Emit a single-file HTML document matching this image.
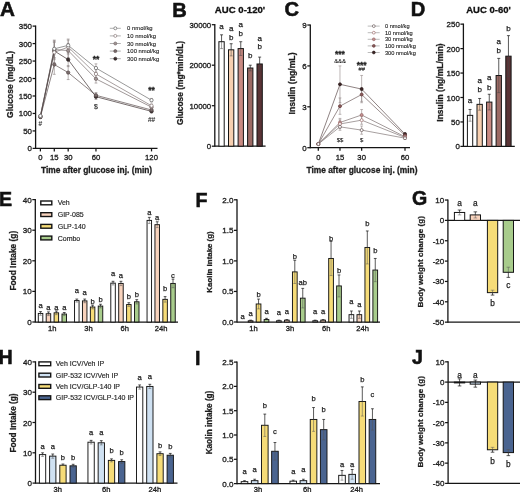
<!DOCTYPE html>
<html><head><meta charset="utf-8"><style>
html,body{margin:0;padding:0;background:#fff;width:520px;height:492px;overflow:hidden}
svg{display:block;filter:blur(0.3px);font-family:"Liberation Sans", sans-serif}
</style></head><body>
<svg width="520" height="492" viewBox="0 0 520 492" font-family='"Liberation Sans", sans-serif'>
<rect width="520" height="492" fill="#fff"/>
<text x="0" y="0" font-size="20.67" font-weight="bold" fill="#111" stroke="#111" stroke-width="0.55" transform="translate(0.00 15.60) scale(1.0 1)">A</text>
<line x1="35.60" y1="25.51" x2="35.60" y2="149.00" stroke="#141414" stroke-width="1.3"/>
<line x1="32.60" y1="148.40" x2="35.60" y2="148.40" stroke="#141414" stroke-width="1.25"/>
<text x="32.00" y="151.40" font-size="7.93" text-anchor="end" stroke="#1e1e1e" stroke-width="0.32" fill="#1e1e1e">0</text>
<line x1="32.60" y1="130.93" x2="35.60" y2="130.93" stroke="#141414" stroke-width="1.25"/>
<text x="32.00" y="133.93" font-size="7.93" text-anchor="end" stroke="#1e1e1e" stroke-width="0.32" fill="#1e1e1e">50</text>
<line x1="32.60" y1="113.46" x2="35.60" y2="113.46" stroke="#141414" stroke-width="1.25"/>
<text x="32.00" y="116.46" font-size="7.93" text-anchor="end" stroke="#1e1e1e" stroke-width="0.32" fill="#1e1e1e">100</text>
<line x1="32.60" y1="95.99" x2="35.60" y2="95.99" stroke="#141414" stroke-width="1.25"/>
<text x="32.00" y="98.99" font-size="7.93" text-anchor="end" stroke="#1e1e1e" stroke-width="0.32" fill="#1e1e1e">150</text>
<line x1="32.60" y1="78.52" x2="35.60" y2="78.52" stroke="#141414" stroke-width="1.25"/>
<text x="32.00" y="81.52" font-size="7.93" text-anchor="end" stroke="#1e1e1e" stroke-width="0.32" fill="#1e1e1e">200</text>
<line x1="32.60" y1="61.05" x2="35.60" y2="61.05" stroke="#141414" stroke-width="1.25"/>
<text x="32.00" y="64.05" font-size="7.93" text-anchor="end" stroke="#1e1e1e" stroke-width="0.32" fill="#1e1e1e">250</text>
<line x1="32.60" y1="43.58" x2="35.60" y2="43.58" stroke="#141414" stroke-width="1.25"/>
<text x="32.00" y="46.58" font-size="7.93" text-anchor="end" stroke="#1e1e1e" stroke-width="0.32" fill="#1e1e1e">300</text>
<line x1="32.60" y1="26.11" x2="35.60" y2="26.11" stroke="#141414" stroke-width="1.25"/>
<text x="32.00" y="29.11" font-size="7.93" text-anchor="end" stroke="#1e1e1e" stroke-width="0.32" fill="#1e1e1e">350</text>
<line x1="35.60" y1="148.40" x2="157.50" y2="148.40" stroke="#141414" stroke-width="1.25"/>
<line x1="40.40" y1="148.40" x2="40.40" y2="151.40" stroke="#141414" stroke-width="1.25"/>
<text x="40.40" y="159.90" font-size="7.70" text-anchor="middle" stroke="#1e1e1e" stroke-width="0.32" fill="#1e1e1e">0</text>
<line x1="54.29" y1="148.40" x2="54.29" y2="151.40" stroke="#141414" stroke-width="1.25"/>
<text x="54.29" y="159.90" font-size="7.70" text-anchor="middle" stroke="#1e1e1e" stroke-width="0.32" fill="#1e1e1e">15</text>
<line x1="68.18" y1="148.40" x2="68.18" y2="151.40" stroke="#141414" stroke-width="1.25"/>
<text x="68.18" y="159.90" font-size="7.70" text-anchor="middle" stroke="#1e1e1e" stroke-width="0.32" fill="#1e1e1e">30</text>
<line x1="95.96" y1="148.40" x2="95.96" y2="151.40" stroke="#141414" stroke-width="1.25"/>
<text x="95.96" y="159.90" font-size="7.70" text-anchor="middle" stroke="#1e1e1e" stroke-width="0.32" fill="#1e1e1e">60</text>
<line x1="151.52" y1="148.40" x2="151.52" y2="151.40" stroke="#141414" stroke-width="1.25"/>
<text x="151.52" y="159.90" font-size="7.70" text-anchor="middle" stroke="#1e1e1e" stroke-width="0.32" fill="#1e1e1e">120</text>
<text x="96.60" y="172.60" font-size="8.40" text-anchor="middle" font-weight="bold" stroke="#1e1e1e" stroke-width="0.3" fill="#1e1e1e">Time after glucose inj. (min)</text>
<text x="0" y="0" font-size="8.5" font-weight="bold" text-anchor="middle" fill="#1e1e1e" stroke="#1e1e1e" stroke-width="0.28" transform="translate(13.06 84.40) rotate(-90)">Glucose (mg/dL)</text>
<line x1="40.40" y1="117.30" x2="40.40" y2="114.51" stroke="#8a8080" stroke-width="0.6"/>
<line x1="39.00" y1="114.51" x2="41.80" y2="114.51" stroke="#8a8080" stroke-width="0.6"/>
<line x1="39.00" y1="117.30" x2="41.80" y2="117.30" stroke="#8a8080" stroke-width="0.6"/>
<line x1="54.29" y1="57.56" x2="54.29" y2="40.09" stroke="#8a8080" stroke-width="0.6"/>
<line x1="52.89" y1="40.09" x2="55.69" y2="40.09" stroke="#8a8080" stroke-width="0.6"/>
<line x1="52.89" y1="57.56" x2="55.69" y2="57.56" stroke="#8a8080" stroke-width="0.6"/>
<line x1="68.18" y1="51.62" x2="68.18" y2="39.04" stroke="#8a8080" stroke-width="0.6"/>
<line x1="66.78" y1="39.04" x2="69.58" y2="39.04" stroke="#8a8080" stroke-width="0.6"/>
<line x1="66.78" y1="51.62" x2="69.58" y2="51.62" stroke="#8a8080" stroke-width="0.6"/>
<line x1="95.96" y1="72.23" x2="95.96" y2="63.85" stroke="#8a8080" stroke-width="0.6"/>
<line x1="94.56" y1="63.85" x2="97.36" y2="63.85" stroke="#8a8080" stroke-width="0.6"/>
<line x1="94.56" y1="72.23" x2="97.36" y2="72.23" stroke="#8a8080" stroke-width="0.6"/>
<line x1="151.52" y1="101.93" x2="151.52" y2="98.44" stroke="#8a8080" stroke-width="0.6"/>
<line x1="150.12" y1="98.44" x2="152.92" y2="98.44" stroke="#8a8080" stroke-width="0.6"/>
<line x1="150.12" y1="101.93" x2="152.92" y2="101.93" stroke="#8a8080" stroke-width="0.6"/>
<line x1="40.40" y1="117.30" x2="40.40" y2="114.51" stroke="#8a8080" stroke-width="0.6"/>
<line x1="39.00" y1="114.51" x2="41.80" y2="114.51" stroke="#8a8080" stroke-width="0.6"/>
<line x1="39.00" y1="117.30" x2="41.80" y2="117.30" stroke="#8a8080" stroke-width="0.6"/>
<line x1="54.29" y1="62.80" x2="54.29" y2="41.83" stroke="#8a8080" stroke-width="0.6"/>
<line x1="52.89" y1="41.83" x2="55.69" y2="41.83" stroke="#8a8080" stroke-width="0.6"/>
<line x1="52.89" y1="62.80" x2="55.69" y2="62.80" stroke="#8a8080" stroke-width="0.6"/>
<line x1="68.18" y1="54.06" x2="68.18" y2="40.09" stroke="#8a8080" stroke-width="0.6"/>
<line x1="66.78" y1="40.09" x2="69.58" y2="40.09" stroke="#8a8080" stroke-width="0.6"/>
<line x1="66.78" y1="54.06" x2="69.58" y2="54.06" stroke="#8a8080" stroke-width="0.6"/>
<line x1="95.96" y1="78.87" x2="95.96" y2="69.09" stroke="#8a8080" stroke-width="0.6"/>
<line x1="94.56" y1="69.09" x2="97.36" y2="69.09" stroke="#8a8080" stroke-width="0.6"/>
<line x1="94.56" y1="78.87" x2="97.36" y2="78.87" stroke="#8a8080" stroke-width="0.6"/>
<line x1="151.52" y1="107.52" x2="151.52" y2="104.03" stroke="#8a8080" stroke-width="0.6"/>
<line x1="150.12" y1="104.03" x2="152.92" y2="104.03" stroke="#8a8080" stroke-width="0.6"/>
<line x1="150.12" y1="107.52" x2="152.92" y2="107.52" stroke="#8a8080" stroke-width="0.6"/>
<line x1="40.40" y1="117.65" x2="40.40" y2="114.86" stroke="#8a8080" stroke-width="0.6"/>
<line x1="39.00" y1="114.86" x2="41.80" y2="114.86" stroke="#8a8080" stroke-width="0.6"/>
<line x1="39.00" y1="117.65" x2="41.80" y2="117.65" stroke="#8a8080" stroke-width="0.6"/>
<line x1="54.29" y1="58.25" x2="54.29" y2="40.78" stroke="#8a8080" stroke-width="0.6"/>
<line x1="52.89" y1="40.78" x2="55.69" y2="40.78" stroke="#8a8080" stroke-width="0.6"/>
<line x1="52.89" y1="58.25" x2="55.69" y2="58.25" stroke="#8a8080" stroke-width="0.6"/>
<line x1="68.18" y1="57.56" x2="68.18" y2="43.58" stroke="#8a8080" stroke-width="0.6"/>
<line x1="66.78" y1="43.58" x2="69.58" y2="43.58" stroke="#8a8080" stroke-width="0.6"/>
<line x1="66.78" y1="57.56" x2="69.58" y2="57.56" stroke="#8a8080" stroke-width="0.6"/>
<line x1="95.96" y1="83.06" x2="95.96" y2="74.68" stroke="#8a8080" stroke-width="0.6"/>
<line x1="94.56" y1="74.68" x2="97.36" y2="74.68" stroke="#8a8080" stroke-width="0.6"/>
<line x1="94.56" y1="83.06" x2="97.36" y2="83.06" stroke="#8a8080" stroke-width="0.6"/>
<line x1="151.52" y1="108.57" x2="151.52" y2="105.77" stroke="#8a8080" stroke-width="0.6"/>
<line x1="150.12" y1="105.77" x2="152.92" y2="105.77" stroke="#8a8080" stroke-width="0.6"/>
<line x1="150.12" y1="108.57" x2="152.92" y2="108.57" stroke="#8a8080" stroke-width="0.6"/>
<line x1="40.40" y1="118.35" x2="40.40" y2="115.56" stroke="#8a8080" stroke-width="0.6"/>
<line x1="39.00" y1="115.56" x2="41.80" y2="115.56" stroke="#8a8080" stroke-width="0.6"/>
<line x1="39.00" y1="118.35" x2="41.80" y2="118.35" stroke="#8a8080" stroke-width="0.6"/>
<line x1="54.29" y1="74.33" x2="54.29" y2="54.76" stroke="#8a8080" stroke-width="0.6"/>
<line x1="52.89" y1="54.76" x2="55.69" y2="54.76" stroke="#8a8080" stroke-width="0.6"/>
<line x1="52.89" y1="74.33" x2="55.69" y2="74.33" stroke="#8a8080" stroke-width="0.6"/>
<line x1="68.18" y1="79.57" x2="68.18" y2="65.59" stroke="#8a8080" stroke-width="0.6"/>
<line x1="66.78" y1="65.59" x2="69.58" y2="65.59" stroke="#8a8080" stroke-width="0.6"/>
<line x1="66.78" y1="79.57" x2="69.58" y2="79.57" stroke="#8a8080" stroke-width="0.6"/>
<line x1="95.96" y1="98.09" x2="95.96" y2="92.50" stroke="#8a8080" stroke-width="0.6"/>
<line x1="94.56" y1="92.50" x2="97.36" y2="92.50" stroke="#8a8080" stroke-width="0.6"/>
<line x1="94.56" y1="98.09" x2="97.36" y2="98.09" stroke="#8a8080" stroke-width="0.6"/>
<line x1="151.52" y1="111.36" x2="151.52" y2="108.57" stroke="#8a8080" stroke-width="0.6"/>
<line x1="150.12" y1="108.57" x2="152.92" y2="108.57" stroke="#8a8080" stroke-width="0.6"/>
<line x1="150.12" y1="111.36" x2="152.92" y2="111.36" stroke="#8a8080" stroke-width="0.6"/>
<line x1="40.40" y1="118.35" x2="40.40" y2="115.56" stroke="#8a8080" stroke-width="0.6"/>
<line x1="39.00" y1="115.56" x2="41.80" y2="115.56" stroke="#8a8080" stroke-width="0.6"/>
<line x1="39.00" y1="118.35" x2="41.80" y2="118.35" stroke="#8a8080" stroke-width="0.6"/>
<line x1="54.29" y1="59.65" x2="54.29" y2="42.18" stroke="#8a8080" stroke-width="0.6"/>
<line x1="52.89" y1="42.18" x2="55.69" y2="42.18" stroke="#8a8080" stroke-width="0.6"/>
<line x1="52.89" y1="59.65" x2="55.69" y2="59.65" stroke="#8a8080" stroke-width="0.6"/>
<line x1="68.18" y1="66.64" x2="68.18" y2="52.66" stroke="#8a8080" stroke-width="0.6"/>
<line x1="66.78" y1="52.66" x2="69.58" y2="52.66" stroke="#8a8080" stroke-width="0.6"/>
<line x1="66.78" y1="66.64" x2="69.58" y2="66.64" stroke="#8a8080" stroke-width="0.6"/>
<line x1="95.96" y1="99.48" x2="95.96" y2="93.89" stroke="#8a8080" stroke-width="0.6"/>
<line x1="94.56" y1="93.89" x2="97.36" y2="93.89" stroke="#8a8080" stroke-width="0.6"/>
<line x1="94.56" y1="99.48" x2="97.36" y2="99.48" stroke="#8a8080" stroke-width="0.6"/>
<line x1="151.52" y1="112.76" x2="151.52" y2="109.97" stroke="#8a8080" stroke-width="0.6"/>
<line x1="150.12" y1="109.97" x2="152.92" y2="109.97" stroke="#8a8080" stroke-width="0.6"/>
<line x1="150.12" y1="112.76" x2="152.92" y2="112.76" stroke="#8a8080" stroke-width="0.6"/>
<polyline points="40.40,115.91 54.29,48.82 68.18,45.33 95.96,68.04 151.52,100.18" fill="none" stroke="#777" stroke-width="0.75"/>
<polyline points="40.40,115.91 54.29,52.32 68.18,47.07 95.96,73.98 151.52,105.77" fill="none" stroke="#8a7f7f" stroke-width="0.75"/>
<polyline points="40.40,116.26 54.29,49.52 68.18,50.57 95.96,78.87 151.52,107.17" fill="none" stroke="#807575" stroke-width="0.75"/>
<polyline points="40.40,116.95 54.29,64.54 68.18,72.58 95.96,95.29 151.52,109.97" fill="none" stroke="#6a5d5d" stroke-width="0.75"/>
<polyline points="40.40,116.95 54.29,50.92 68.18,59.65 95.96,96.69 151.52,111.36" fill="none" stroke="#4a3e3e" stroke-width="0.75"/>
<circle cx="40.40" cy="116.95" r="1.65" fill="#3a2e2e" stroke="#2a2020" stroke-width="0.75"/>
<circle cx="54.29" cy="50.92" r="1.65" fill="#3a2e2e" stroke="#2a2020" stroke-width="0.75"/>
<circle cx="68.18" cy="59.65" r="1.65" fill="#3a2e2e" stroke="#2a2020" stroke-width="0.75"/>
<circle cx="95.96" cy="96.69" r="1.65" fill="#3a2e2e" stroke="#2a2020" stroke-width="0.75"/>
<circle cx="151.52" cy="111.36" r="1.65" fill="#3a2e2e" stroke="#2a2020" stroke-width="0.75"/>
<circle cx="40.40" cy="116.95" r="1.65" fill="#7a6c6c" stroke="#5a4c4c" stroke-width="0.75"/>
<circle cx="54.29" cy="64.54" r="1.65" fill="#7a6c6c" stroke="#5a4c4c" stroke-width="0.75"/>
<circle cx="68.18" cy="72.58" r="1.65" fill="#7a6c6c" stroke="#5a4c4c" stroke-width="0.75"/>
<circle cx="95.96" cy="95.29" r="1.65" fill="#7a6c6c" stroke="#5a4c4c" stroke-width="0.75"/>
<circle cx="151.52" cy="109.97" r="1.65" fill="#7a6c6c" stroke="#5a4c4c" stroke-width="0.75"/>
<circle cx="40.40" cy="116.26" r="1.65" fill="#a09494" stroke="#756a6a" stroke-width="0.75"/>
<circle cx="54.29" cy="49.52" r="1.65" fill="#a09494" stroke="#756a6a" stroke-width="0.75"/>
<circle cx="68.18" cy="50.57" r="1.65" fill="#a09494" stroke="#756a6a" stroke-width="0.75"/>
<circle cx="95.96" cy="78.87" r="1.65" fill="#a09494" stroke="#756a6a" stroke-width="0.75"/>
<circle cx="151.52" cy="107.17" r="1.65" fill="#a09494" stroke="#756a6a" stroke-width="0.75"/>
<circle cx="40.40" cy="115.91" r="1.65" fill="#ffffff" stroke="#8a7a7a" stroke-width="0.75"/>
<circle cx="54.29" cy="52.32" r="1.65" fill="#ffffff" stroke="#8a7a7a" stroke-width="0.75"/>
<circle cx="68.18" cy="47.07" r="1.65" fill="#ffffff" stroke="#8a7a7a" stroke-width="0.75"/>
<circle cx="95.96" cy="73.98" r="1.65" fill="#ffffff" stroke="#8a7a7a" stroke-width="0.75"/>
<circle cx="151.52" cy="105.77" r="1.65" fill="#ffffff" stroke="#8a7a7a" stroke-width="0.75"/>
<circle cx="40.40" cy="115.91" r="1.65" fill="#ffffff" stroke="#666" stroke-width="0.75"/>
<circle cx="54.29" cy="48.82" r="1.65" fill="#ffffff" stroke="#666" stroke-width="0.75"/>
<circle cx="68.18" cy="45.33" r="1.65" fill="#ffffff" stroke="#666" stroke-width="0.75"/>
<circle cx="95.96" cy="68.04" r="1.65" fill="#ffffff" stroke="#666" stroke-width="0.75"/>
<circle cx="151.52" cy="100.18" r="1.65" fill="#ffffff" stroke="#666" stroke-width="0.75"/>
<text x="95.96" y="61.60" font-size="8.50" text-anchor="middle" font-weight="bold" stroke="#1e1e1e" stroke-width="0.3" fill="#1e1e1e">**</text>
<text x="151.52" y="92.50" font-size="8.50" text-anchor="middle" font-weight="bold" stroke="#1e1e1e" stroke-width="0.3" fill="#1e1e1e">**</text>
<text x="95.96" y="109.00" font-size="6.80" text-anchor="middle" stroke="#1e1e1e" stroke-width="0.15" fill="#1e1e1e">$</text>
<text x="40.40" y="126.00" font-size="6.50" text-anchor="middle" stroke="#1e1e1e" stroke-width="0.1" fill="#1e1e1e">#</text>
<text x="151.52" y="122.30" font-size="6.50" text-anchor="middle" stroke="#1e1e1e" stroke-width="0.1" fill="#1e1e1e">##</text>
<line x1="109.80" y1="28.30" x2="120.80" y2="28.30" stroke="#9a9a9a" stroke-width="0.8"/>
<circle cx="115.30" cy="28.30" r="1.5" fill="#ffffff" stroke="#666" stroke-width="0.7"/>
<text x="127.10" y="30.40" font-size="5.90" text-anchor="start" stroke="#1e1e1e" stroke-width="0.12" fill="#1e1e1e">0 nmol/kg</text>
<line x1="109.80" y1="35.90" x2="120.80" y2="35.90" stroke="#9a9a9a" stroke-width="0.8"/>
<circle cx="115.30" cy="35.90" r="1.5" fill="#ffffff" stroke="#8a7a7a" stroke-width="0.7"/>
<text x="127.10" y="38.00" font-size="5.90" text-anchor="start" stroke="#1e1e1e" stroke-width="0.12" fill="#1e1e1e">10 nmol/kg</text>
<line x1="109.80" y1="43.50" x2="120.80" y2="43.50" stroke="#9a9a9a" stroke-width="0.8"/>
<circle cx="115.30" cy="43.50" r="1.5" fill="#a09494" stroke="#756a6a" stroke-width="0.7"/>
<text x="127.10" y="45.60" font-size="5.90" text-anchor="start" stroke="#1e1e1e" stroke-width="0.12" fill="#1e1e1e">30 nmol/kg</text>
<line x1="109.80" y1="51.10" x2="120.80" y2="51.10" stroke="#9a9a9a" stroke-width="0.8"/>
<circle cx="115.30" cy="51.10" r="1.5" fill="#7a6c6c" stroke="#5a4c4c" stroke-width="0.7"/>
<text x="127.10" y="53.20" font-size="5.90" text-anchor="start" stroke="#1e1e1e" stroke-width="0.12" fill="#1e1e1e">100 nmol/kg</text>
<line x1="109.80" y1="58.70" x2="120.80" y2="58.70" stroke="#9a9a9a" stroke-width="0.8"/>
<circle cx="115.30" cy="58.70" r="1.5" fill="#3a2e2e" stroke="#2a2020" stroke-width="0.7"/>
<text x="127.10" y="60.80" font-size="5.90" text-anchor="start" stroke="#1e1e1e" stroke-width="0.12" fill="#1e1e1e">300 nmol/kg</text>
<text x="0" y="0" font-size="20.14" font-weight="bold" fill="#111" stroke="#111" stroke-width="0.55" transform="translate(172.30 16.60) scale(1.0 1)">B</text>
<text x="240.00" y="13.00" font-size="9.60" text-anchor="middle" font-weight="bold" stroke="#111" stroke-width="0.3" fill="#111">AUC 0-120'</text>
<line x1="214.80" y1="24.10" x2="214.80" y2="146.80" stroke="#141414" stroke-width="1.3"/>
<line x1="211.80" y1="146.20" x2="214.80" y2="146.20" stroke="#141414" stroke-width="1.25"/>
<text x="211.20" y="149.20" font-size="7.82" text-anchor="end" stroke="#1e1e1e" stroke-width="0.32" fill="#1e1e1e">0</text>
<line x1="211.80" y1="105.70" x2="214.80" y2="105.70" stroke="#141414" stroke-width="1.25"/>
<text x="211.20" y="108.70" font-size="7.82" text-anchor="end" stroke="#1e1e1e" stroke-width="0.32" fill="#1e1e1e">10000</text>
<line x1="211.80" y1="65.20" x2="214.80" y2="65.20" stroke="#141414" stroke-width="1.25"/>
<text x="211.20" y="68.20" font-size="7.82" text-anchor="end" stroke="#1e1e1e" stroke-width="0.32" fill="#1e1e1e">20000</text>
<line x1="211.80" y1="24.70" x2="214.80" y2="24.70" stroke="#141414" stroke-width="1.25"/>
<text x="211.20" y="27.70" font-size="7.82" text-anchor="end" stroke="#1e1e1e" stroke-width="0.32" fill="#1e1e1e">30000</text>
<line x1="214.80" y1="146.20" x2="265.60" y2="146.20" stroke="#141414" stroke-width="1.25"/>
<text x="0" y="0" font-size="8.4" font-weight="bold" text-anchor="middle" fill="#1e1e1e" stroke="#1e1e1e" stroke-width="0.28" transform="translate(183.12 83.00) rotate(-90)">Glucose (mg*min/dL)</text>
<rect x="218.90" y="41.71" width="5.30" height="104.49" fill="#ffffff" stroke="#141414" stroke-width="1.0"/>
<line x1="221.55" y1="41.71" x2="221.55" y2="34.82" stroke="#141414" stroke-width="0.7"/>
<line x1="220.05" y1="34.82" x2="223.05" y2="34.82" stroke="#141414" stroke-width="0.7"/>
<line x1="221.55" y1="41.71" x2="221.55" y2="48.59" stroke="#444" stroke-width="0.5"/>
<line x1="220.05" y1="48.59" x2="223.05" y2="48.59" stroke="#444" stroke-width="0.5"/>
<rect x="228.50" y="49.81" width="5.30" height="96.39" fill="#f7cfb0" stroke="#141414" stroke-width="1.0"/>
<line x1="231.15" y1="49.81" x2="231.15" y2="43.73" stroke="#141414" stroke-width="0.7"/>
<line x1="229.65" y1="43.73" x2="232.65" y2="43.73" stroke="#141414" stroke-width="0.7"/>
<line x1="231.15" y1="49.81" x2="231.15" y2="55.88" stroke="#444" stroke-width="0.5"/>
<line x1="229.65" y1="55.88" x2="232.65" y2="55.88" stroke="#444" stroke-width="0.5"/>
<rect x="238.10" y="48.59" width="5.30" height="97.60" fill="#c98a82" stroke="#141414" stroke-width="1.0"/>
<line x1="240.75" y1="48.59" x2="240.75" y2="41.71" stroke="#141414" stroke-width="0.7"/>
<line x1="239.25" y1="41.71" x2="242.25" y2="41.71" stroke="#141414" stroke-width="0.7"/>
<line x1="240.75" y1="48.59" x2="240.75" y2="55.48" stroke="#444" stroke-width="0.5"/>
<line x1="239.25" y1="55.48" x2="242.25" y2="55.48" stroke="#444" stroke-width="0.5"/>
<rect x="247.60" y="68.03" width="5.30" height="78.16" fill="#9c6a64" stroke="#141414" stroke-width="1.0"/>
<line x1="250.25" y1="68.03" x2="250.25" y2="65.20" stroke="#141414" stroke-width="0.7"/>
<line x1="248.75" y1="65.20" x2="251.75" y2="65.20" stroke="#141414" stroke-width="0.7"/>
<line x1="250.25" y1="68.03" x2="250.25" y2="70.87" stroke="#444" stroke-width="0.5"/>
<line x1="248.75" y1="70.87" x2="251.75" y2="70.87" stroke="#444" stroke-width="0.5"/>
<rect x="257.00" y="63.98" width="5.30" height="82.21" fill="#5a3436" stroke="#141414" stroke-width="1.0"/>
<line x1="259.65" y1="63.98" x2="259.65" y2="57.10" stroke="#141414" stroke-width="0.7"/>
<line x1="258.15" y1="57.10" x2="261.15" y2="57.10" stroke="#141414" stroke-width="0.7"/>
<line x1="259.65" y1="63.98" x2="259.65" y2="70.87" stroke="#444" stroke-width="0.5"/>
<line x1="258.15" y1="70.87" x2="261.15" y2="70.87" stroke="#444" stroke-width="0.5"/>
<text x="221.55" y="29.43" font-size="8.00" text-anchor="middle" stroke="#1e1e1e" stroke-width="0.25" fill="#1e1e1e">a</text>
<text x="231.15" y="31.43" font-size="8.00" text-anchor="middle" stroke="#1e1e1e" stroke-width="0.25" fill="#1e1e1e">a</text>
<text x="231.15" y="40.08" font-size="8.00" text-anchor="middle" stroke="#1e1e1e" stroke-width="0.25" fill="#1e1e1e">b</text>
<text x="240.75" y="27.13" font-size="8.00" text-anchor="middle" stroke="#1e1e1e" stroke-width="0.25" fill="#1e1e1e">a</text>
<text x="240.75" y="35.58" font-size="8.00" text-anchor="middle" stroke="#1e1e1e" stroke-width="0.25" fill="#1e1e1e">b</text>
<text x="250.25" y="57.68" font-size="8.00" text-anchor="middle" stroke="#1e1e1e" stroke-width="0.25" fill="#1e1e1e">b</text>
<text x="259.65" y="41.03" font-size="8.00" text-anchor="middle" stroke="#1e1e1e" stroke-width="0.25" fill="#1e1e1e">a</text>
<text x="259.65" y="49.48" font-size="8.00" text-anchor="middle" stroke="#1e1e1e" stroke-width="0.25" fill="#1e1e1e">b</text>
<text x="0" y="0" font-size="20.14" font-weight="bold" fill="#111" stroke="#111" stroke-width="0.55" transform="translate(284.50 16.00) scale(1.0 1)">C</text>
<line x1="310.30" y1="24.43" x2="310.30" y2="148.30" stroke="#141414" stroke-width="1.3"/>
<line x1="307.30" y1="147.70" x2="310.30" y2="147.70" stroke="#141414" stroke-width="1.25"/>
<text x="306.70" y="150.70" font-size="7.93" text-anchor="end" stroke="#1e1e1e" stroke-width="0.32" fill="#1e1e1e">0</text>
<line x1="307.30" y1="106.81" x2="310.30" y2="106.81" stroke="#141414" stroke-width="1.25"/>
<text x="306.70" y="109.81" font-size="7.93" text-anchor="end" stroke="#1e1e1e" stroke-width="0.32" fill="#1e1e1e">3</text>
<line x1="307.30" y1="65.92" x2="310.30" y2="65.92" stroke="#141414" stroke-width="1.25"/>
<text x="306.70" y="68.92" font-size="7.93" text-anchor="end" stroke="#1e1e1e" stroke-width="0.32" fill="#1e1e1e">6</text>
<line x1="307.30" y1="25.03" x2="310.30" y2="25.03" stroke="#141414" stroke-width="1.25"/>
<text x="306.70" y="28.03" font-size="7.93" text-anchor="end" stroke="#1e1e1e" stroke-width="0.32" fill="#1e1e1e">9</text>
<line x1="310.30" y1="147.70" x2="410.00" y2="147.70" stroke="#141414" stroke-width="1.25"/>
<line x1="318.30" y1="147.70" x2="318.30" y2="150.70" stroke="#141414" stroke-width="1.25"/>
<text x="318.30" y="159.90" font-size="7.70" text-anchor="middle" stroke="#1e1e1e" stroke-width="0.32" fill="#1e1e1e">0</text>
<line x1="339.98" y1="147.70" x2="339.98" y2="150.70" stroke="#141414" stroke-width="1.25"/>
<text x="339.98" y="159.90" font-size="7.70" text-anchor="middle" stroke="#1e1e1e" stroke-width="0.32" fill="#1e1e1e">15</text>
<line x1="361.65" y1="147.70" x2="361.65" y2="150.70" stroke="#141414" stroke-width="1.25"/>
<text x="361.65" y="159.90" font-size="7.70" text-anchor="middle" stroke="#1e1e1e" stroke-width="0.32" fill="#1e1e1e">30</text>
<line x1="405.00" y1="147.70" x2="405.00" y2="150.70" stroke="#141414" stroke-width="1.25"/>
<text x="405.00" y="159.90" font-size="7.70" text-anchor="middle" stroke="#1e1e1e" stroke-width="0.32" fill="#1e1e1e">60</text>
<text x="362.00" y="172.60" font-size="8.40" text-anchor="middle" font-weight="bold" stroke="#1e1e1e" stroke-width="0.3" fill="#1e1e1e">Time after glucose inj. (min)</text>
<text x="0" y="0" font-size="8.66" font-weight="bold" text-anchor="middle" fill="#1e1e1e" stroke="#1e1e1e" stroke-width="0.28" transform="translate(294.52 83.50) rotate(-90)">Insulin (ng/mL)</text>
<line x1="318.30" y1="144.70" x2="318.30" y2="143.34" stroke="#908585" stroke-width="0.6"/>
<line x1="316.90" y1="143.34" x2="319.70" y2="143.34" stroke="#908585" stroke-width="0.6"/>
<line x1="316.90" y1="144.70" x2="319.70" y2="144.70" stroke="#908585" stroke-width="0.6"/>
<line x1="339.98" y1="130.25" x2="339.98" y2="123.44" stroke="#908585" stroke-width="0.6"/>
<line x1="338.58" y1="123.44" x2="341.38" y2="123.44" stroke="#908585" stroke-width="0.6"/>
<line x1="338.58" y1="130.25" x2="341.38" y2="130.25" stroke="#908585" stroke-width="0.6"/>
<line x1="361.65" y1="134.21" x2="361.65" y2="126.03" stroke="#908585" stroke-width="0.6"/>
<line x1="360.25" y1="126.03" x2="363.05" y2="126.03" stroke="#908585" stroke-width="0.6"/>
<line x1="360.25" y1="134.21" x2="363.05" y2="134.21" stroke="#908585" stroke-width="0.6"/>
<line x1="405.00" y1="139.52" x2="405.00" y2="136.80" stroke="#908585" stroke-width="0.6"/>
<line x1="403.60" y1="136.80" x2="406.40" y2="136.80" stroke="#908585" stroke-width="0.6"/>
<line x1="403.60" y1="139.52" x2="406.40" y2="139.52" stroke="#908585" stroke-width="0.6"/>
<line x1="318.30" y1="144.70" x2="318.30" y2="143.34" stroke="#908585" stroke-width="0.6"/>
<line x1="316.90" y1="143.34" x2="319.70" y2="143.34" stroke="#908585" stroke-width="0.6"/>
<line x1="316.90" y1="144.70" x2="319.70" y2="144.70" stroke="#908585" stroke-width="0.6"/>
<line x1="339.98" y1="128.07" x2="339.98" y2="119.89" stroke="#908585" stroke-width="0.6"/>
<line x1="338.58" y1="119.89" x2="341.38" y2="119.89" stroke="#908585" stroke-width="0.6"/>
<line x1="338.58" y1="128.07" x2="341.38" y2="128.07" stroke="#908585" stroke-width="0.6"/>
<line x1="361.65" y1="124.26" x2="361.65" y2="116.08" stroke="#908585" stroke-width="0.6"/>
<line x1="360.25" y1="116.08" x2="363.05" y2="116.08" stroke="#908585" stroke-width="0.6"/>
<line x1="360.25" y1="124.26" x2="363.05" y2="124.26" stroke="#908585" stroke-width="0.6"/>
<line x1="405.00" y1="138.84" x2="405.00" y2="136.11" stroke="#908585" stroke-width="0.6"/>
<line x1="403.60" y1="136.11" x2="406.40" y2="136.11" stroke="#908585" stroke-width="0.6"/>
<line x1="403.60" y1="138.84" x2="406.40" y2="138.84" stroke="#908585" stroke-width="0.6"/>
<line x1="318.30" y1="144.70" x2="318.30" y2="143.34" stroke="#908585" stroke-width="0.6"/>
<line x1="316.90" y1="143.34" x2="319.70" y2="143.34" stroke="#908585" stroke-width="0.6"/>
<line x1="316.90" y1="144.70" x2="319.70" y2="144.70" stroke="#908585" stroke-width="0.6"/>
<line x1="339.98" y1="126.57" x2="339.98" y2="118.40" stroke="#908585" stroke-width="0.6"/>
<line x1="338.58" y1="118.40" x2="341.38" y2="118.40" stroke="#908585" stroke-width="0.6"/>
<line x1="338.58" y1="126.57" x2="341.38" y2="126.57" stroke="#908585" stroke-width="0.6"/>
<line x1="361.65" y1="120.44" x2="361.65" y2="109.54" stroke="#908585" stroke-width="0.6"/>
<line x1="360.25" y1="109.54" x2="363.05" y2="109.54" stroke="#908585" stroke-width="0.6"/>
<line x1="360.25" y1="120.44" x2="363.05" y2="120.44" stroke="#908585" stroke-width="0.6"/>
<line x1="405.00" y1="138.16" x2="405.00" y2="135.43" stroke="#908585" stroke-width="0.6"/>
<line x1="403.60" y1="135.43" x2="406.40" y2="135.43" stroke="#908585" stroke-width="0.6"/>
<line x1="403.60" y1="138.16" x2="406.40" y2="138.16" stroke="#908585" stroke-width="0.6"/>
<line x1="318.30" y1="144.70" x2="318.30" y2="143.34" stroke="#908585" stroke-width="0.6"/>
<line x1="316.90" y1="143.34" x2="319.70" y2="143.34" stroke="#908585" stroke-width="0.6"/>
<line x1="316.90" y1="144.70" x2="319.70" y2="144.70" stroke="#908585" stroke-width="0.6"/>
<line x1="339.98" y1="114.31" x2="339.98" y2="97.95" stroke="#908585" stroke-width="0.6"/>
<line x1="338.58" y1="97.95" x2="341.38" y2="97.95" stroke="#908585" stroke-width="0.6"/>
<line x1="338.58" y1="114.31" x2="341.38" y2="114.31" stroke="#908585" stroke-width="0.6"/>
<line x1="361.65" y1="101.36" x2="361.65" y2="87.73" stroke="#908585" stroke-width="0.6"/>
<line x1="360.25" y1="87.73" x2="363.05" y2="87.73" stroke="#908585" stroke-width="0.6"/>
<line x1="360.25" y1="101.36" x2="363.05" y2="101.36" stroke="#908585" stroke-width="0.6"/>
<line x1="405.00" y1="136.80" x2="405.00" y2="134.07" stroke="#908585" stroke-width="0.6"/>
<line x1="403.60" y1="134.07" x2="406.40" y2="134.07" stroke="#908585" stroke-width="0.6"/>
<line x1="403.60" y1="136.80" x2="406.40" y2="136.80" stroke="#908585" stroke-width="0.6"/>
<line x1="318.30" y1="144.70" x2="318.30" y2="143.34" stroke="#908585" stroke-width="0.6"/>
<line x1="316.90" y1="143.34" x2="319.70" y2="143.34" stroke="#908585" stroke-width="0.6"/>
<line x1="316.90" y1="144.70" x2="319.70" y2="144.70" stroke="#908585" stroke-width="0.6"/>
<line x1="339.98" y1="102.72" x2="339.98" y2="65.92" stroke="#908585" stroke-width="0.6"/>
<line x1="338.58" y1="65.92" x2="341.38" y2="65.92" stroke="#908585" stroke-width="0.6"/>
<line x1="338.58" y1="102.72" x2="341.38" y2="102.72" stroke="#908585" stroke-width="0.6"/>
<line x1="361.65" y1="102.72" x2="361.65" y2="75.46" stroke="#908585" stroke-width="0.6"/>
<line x1="360.25" y1="75.46" x2="363.05" y2="75.46" stroke="#908585" stroke-width="0.6"/>
<line x1="360.25" y1="102.72" x2="363.05" y2="102.72" stroke="#908585" stroke-width="0.6"/>
<line x1="405.00" y1="135.43" x2="405.00" y2="132.71" stroke="#908585" stroke-width="0.6"/>
<line x1="403.60" y1="132.71" x2="406.40" y2="132.71" stroke="#908585" stroke-width="0.6"/>
<line x1="403.60" y1="135.43" x2="406.40" y2="135.43" stroke="#908585" stroke-width="0.6"/>
<polyline points="318.30,144.02 339.98,126.85 361.65,130.12 405.00,138.16" fill="none" stroke="#8a8080" stroke-width="0.75"/>
<polyline points="318.30,144.02 339.98,123.98 361.65,120.17 405.00,137.48" fill="none" stroke="#8a8080" stroke-width="0.75"/>
<polyline points="318.30,144.02 339.98,122.48 361.65,114.99 405.00,136.80" fill="none" stroke="#857a7a" stroke-width="0.75"/>
<polyline points="318.30,144.02 339.98,106.13 361.65,94.54 405.00,135.43" fill="none" stroke="#7a6a6a" stroke-width="0.75"/>
<polyline points="318.30,144.02 339.98,84.32 361.65,89.09 405.00,134.07" fill="none" stroke="#6a5a5a" stroke-width="0.75"/>
<circle cx="318.30" cy="144.02" r="1.5" fill="#3c2424" stroke="#2a1a1a" stroke-width="0.75"/>
<circle cx="339.98" cy="84.32" r="1.5" fill="#3c2424" stroke="#2a1a1a" stroke-width="0.75"/>
<circle cx="361.65" cy="89.09" r="1.5" fill="#3c2424" stroke="#2a1a1a" stroke-width="0.75"/>
<circle cx="405.00" cy="134.07" r="1.5" fill="#3c2424" stroke="#2a1a1a" stroke-width="0.75"/>
<circle cx="318.30" cy="144.02" r="1.5" fill="#8a5a5a" stroke="#6a4040" stroke-width="0.75"/>
<circle cx="339.98" cy="106.13" r="1.5" fill="#8a5a5a" stroke="#6a4040" stroke-width="0.75"/>
<circle cx="361.65" cy="94.54" r="1.5" fill="#8a5a5a" stroke="#6a4040" stroke-width="0.75"/>
<circle cx="405.00" cy="135.43" r="1.5" fill="#8a5a5a" stroke="#6a4040" stroke-width="0.75"/>
<circle cx="318.30" cy="144.02" r="1.5" fill="#c49090" stroke="#9a6a6a" stroke-width="0.75"/>
<circle cx="339.98" cy="122.48" r="1.5" fill="#c49090" stroke="#9a6a6a" stroke-width="0.75"/>
<circle cx="361.65" cy="114.99" r="1.5" fill="#c49090" stroke="#9a6a6a" stroke-width="0.75"/>
<circle cx="405.00" cy="136.80" r="1.5" fill="#c49090" stroke="#9a6a6a" stroke-width="0.75"/>
<circle cx="318.30" cy="144.02" r="1.5" fill="#ffffff" stroke="#a07070" stroke-width="0.75"/>
<circle cx="339.98" cy="123.98" r="1.5" fill="#ffffff" stroke="#a07070" stroke-width="0.75"/>
<circle cx="361.65" cy="120.17" r="1.5" fill="#ffffff" stroke="#a07070" stroke-width="0.75"/>
<circle cx="405.00" cy="137.48" r="1.5" fill="#ffffff" stroke="#a07070" stroke-width="0.75"/>
<circle cx="318.30" cy="144.02" r="1.5" fill="#ffffff" stroke="#6a5a5a" stroke-width="0.75"/>
<circle cx="339.98" cy="126.85" r="1.5" fill="#ffffff" stroke="#6a5a5a" stroke-width="0.75"/>
<circle cx="361.65" cy="130.12" r="1.5" fill="#ffffff" stroke="#6a5a5a" stroke-width="0.75"/>
<circle cx="405.00" cy="138.16" r="1.5" fill="#ffffff" stroke="#6a5a5a" stroke-width="0.75"/>
<text x="339.98" y="56.50" font-size="8.50" text-anchor="middle" font-weight="bold" stroke="#1e1e1e" stroke-width="0.3" fill="#1e1e1e">***</text>
<text x="339.98" y="62.60" font-size="5.80" text-anchor="middle" stroke="#1e1e1e" stroke-width="0.1" fill="#1e1e1e">&amp;&amp;&amp;</text>
<text x="361.65" y="67.50" font-size="8.50" text-anchor="middle" font-weight="bold" stroke="#1e1e1e" stroke-width="0.3" fill="#1e1e1e">***</text>
<text x="361.65" y="71.30" font-size="5.80" text-anchor="middle" stroke="#1e1e1e" stroke-width="0.1" fill="#1e1e1e">##</text>
<text x="339.98" y="142.00" font-size="6.00" text-anchor="middle" stroke="#1e1e1e" stroke-width="0.12" fill="#1e1e1e">$$</text>
<text x="361.65" y="142.00" font-size="6.00" text-anchor="middle" stroke="#1e1e1e" stroke-width="0.12" fill="#1e1e1e">$</text>
<line x1="367.70" y1="26.10" x2="379.70" y2="26.10" stroke="#aaa" stroke-width="0.8"/>
<circle cx="373.80" cy="26.10" r="1.4" fill="#ffffff" stroke="#6a5a5a" stroke-width="0.7"/>
<text x="384.90" y="28.10" font-size="5.70" text-anchor="start" stroke="#1e1e1e" stroke-width="0.12" fill="#1e1e1e">0 nmol/kg</text>
<line x1="367.70" y1="32.70" x2="379.70" y2="32.70" stroke="#aaa" stroke-width="0.8"/>
<circle cx="373.80" cy="32.70" r="1.4" fill="#ffffff" stroke="#a07070" stroke-width="0.7"/>
<text x="384.90" y="34.70" font-size="5.70" text-anchor="start" stroke="#1e1e1e" stroke-width="0.12" fill="#1e1e1e">10 nmol/kg</text>
<line x1="367.70" y1="39.30" x2="379.70" y2="39.30" stroke="#aaa" stroke-width="0.8"/>
<circle cx="373.80" cy="39.30" r="1.4" fill="#c49090" stroke="#9a6a6a" stroke-width="0.7"/>
<text x="384.90" y="41.30" font-size="5.70" text-anchor="start" stroke="#1e1e1e" stroke-width="0.12" fill="#1e1e1e">30 nmol/kg</text>
<line x1="367.70" y1="45.90" x2="379.70" y2="45.90" stroke="#aaa" stroke-width="0.8"/>
<circle cx="373.80" cy="45.90" r="1.4" fill="#8a5a5a" stroke="#6a4040" stroke-width="0.7"/>
<text x="384.90" y="47.90" font-size="5.70" text-anchor="start" stroke="#1e1e1e" stroke-width="0.12" fill="#1e1e1e">100 nmol/kg</text>
<line x1="367.70" y1="52.50" x2="379.70" y2="52.50" stroke="#aaa" stroke-width="0.8"/>
<circle cx="373.80" cy="52.50" r="1.4" fill="#3c2424" stroke="#2a1a1a" stroke-width="0.7"/>
<text x="384.90" y="54.50" font-size="5.70" text-anchor="start" stroke="#1e1e1e" stroke-width="0.12" fill="#1e1e1e">300 nmol/kg</text>
<text x="0" y="0" font-size="20.14" font-weight="bold" fill="#111" stroke="#111" stroke-width="0.55" transform="translate(410.80 16.00) scale(1.0 1)">D</text>
<text x="488.50" y="12.50" font-size="9.50" text-anchor="middle" font-weight="bold" stroke="#111" stroke-width="0.3" fill="#111">AUC 0-60'</text>
<line x1="463.40" y1="23.55" x2="463.40" y2="147.00" stroke="#141414" stroke-width="1.3"/>
<line x1="460.40" y1="146.40" x2="463.40" y2="146.40" stroke="#141414" stroke-width="1.25"/>
<text x="459.80" y="149.40" font-size="7.93" text-anchor="end" stroke="#1e1e1e" stroke-width="0.32" fill="#1e1e1e">0</text>
<line x1="460.40" y1="121.95" x2="463.40" y2="121.95" stroke="#141414" stroke-width="1.25"/>
<text x="459.80" y="124.95" font-size="7.93" text-anchor="end" stroke="#1e1e1e" stroke-width="0.32" fill="#1e1e1e">50</text>
<line x1="460.40" y1="97.50" x2="463.40" y2="97.50" stroke="#141414" stroke-width="1.25"/>
<text x="459.80" y="100.50" font-size="7.93" text-anchor="end" stroke="#1e1e1e" stroke-width="0.32" fill="#1e1e1e">100</text>
<line x1="460.40" y1="73.05" x2="463.40" y2="73.05" stroke="#141414" stroke-width="1.25"/>
<text x="459.80" y="76.05" font-size="7.93" text-anchor="end" stroke="#1e1e1e" stroke-width="0.32" fill="#1e1e1e">150</text>
<line x1="460.40" y1="48.60" x2="463.40" y2="48.60" stroke="#141414" stroke-width="1.25"/>
<text x="459.80" y="51.60" font-size="7.93" text-anchor="end" stroke="#1e1e1e" stroke-width="0.32" fill="#1e1e1e">200</text>
<line x1="460.40" y1="24.15" x2="463.40" y2="24.15" stroke="#141414" stroke-width="1.25"/>
<text x="459.80" y="27.15" font-size="7.93" text-anchor="end" stroke="#1e1e1e" stroke-width="0.32" fill="#1e1e1e">250</text>
<line x1="463.40" y1="146.40" x2="514.80" y2="146.40" stroke="#141414" stroke-width="1.25"/>
<text x="0" y="0" font-size="8.5" font-weight="bold" text-anchor="middle" fill="#1e1e1e" stroke="#1e1e1e" stroke-width="0.28" transform="translate(443.06 82.50) rotate(-90)">Insulin (ng/mL/min)</text>
<rect x="467.40" y="115.35" width="5.30" height="31.05" fill="#ffffff" stroke="#141414" stroke-width="1.0"/>
<line x1="470.05" y1="115.35" x2="470.05" y2="109.48" stroke="#141414" stroke-width="0.7"/>
<line x1="468.55" y1="109.48" x2="471.55" y2="109.48" stroke="#141414" stroke-width="0.7"/>
<line x1="470.05" y1="115.35" x2="470.05" y2="121.22" stroke="#444" stroke-width="0.5"/>
<line x1="468.55" y1="121.22" x2="471.55" y2="121.22" stroke="#444" stroke-width="0.5"/>
<rect x="477.00" y="104.35" width="5.30" height="42.05" fill="#f7cfb0" stroke="#141414" stroke-width="1.0"/>
<line x1="479.65" y1="104.35" x2="479.65" y2="98.48" stroke="#141414" stroke-width="0.7"/>
<line x1="478.15" y1="98.48" x2="481.15" y2="98.48" stroke="#141414" stroke-width="0.7"/>
<line x1="479.65" y1="104.35" x2="479.65" y2="110.21" stroke="#444" stroke-width="0.5"/>
<line x1="478.15" y1="110.21" x2="481.15" y2="110.21" stroke="#444" stroke-width="0.5"/>
<rect x="486.60" y="102.10" width="5.30" height="44.30" fill="#c98a82" stroke="#141414" stroke-width="1.0"/>
<line x1="489.25" y1="102.10" x2="489.25" y2="94.27" stroke="#141414" stroke-width="0.7"/>
<line x1="487.75" y1="94.27" x2="490.75" y2="94.27" stroke="#141414" stroke-width="0.7"/>
<line x1="489.25" y1="102.10" x2="489.25" y2="109.92" stroke="#444" stroke-width="0.5"/>
<line x1="487.75" y1="109.92" x2="490.75" y2="109.92" stroke="#444" stroke-width="0.5"/>
<rect x="496.10" y="75.50" width="5.30" height="70.91" fill="#9c6a64" stroke="#141414" stroke-width="1.0"/>
<line x1="498.75" y1="75.50" x2="498.75" y2="58.38" stroke="#141414" stroke-width="0.7"/>
<line x1="497.25" y1="58.38" x2="500.25" y2="58.38" stroke="#141414" stroke-width="0.7"/>
<line x1="498.75" y1="75.50" x2="498.75" y2="92.61" stroke="#444" stroke-width="0.5"/>
<line x1="497.25" y1="92.61" x2="500.25" y2="92.61" stroke="#444" stroke-width="0.5"/>
<rect x="505.80" y="56.18" width="5.30" height="90.22" fill="#5a3436" stroke="#141414" stroke-width="1.0"/>
<line x1="508.45" y1="56.18" x2="508.45" y2="35.64" stroke="#141414" stroke-width="0.7"/>
<line x1="506.95" y1="35.64" x2="509.95" y2="35.64" stroke="#141414" stroke-width="0.7"/>
<line x1="508.45" y1="56.18" x2="508.45" y2="76.72" stroke="#444" stroke-width="0.5"/>
<line x1="506.95" y1="76.72" x2="509.95" y2="76.72" stroke="#444" stroke-width="0.5"/>
<text x="470.05" y="103.23" font-size="8.00" text-anchor="middle" stroke="#1e1e1e" stroke-width="0.25" fill="#1e1e1e">a</text>
<text x="479.65" y="83.13" font-size="8.00" text-anchor="middle" stroke="#1e1e1e" stroke-width="0.25" fill="#1e1e1e">a</text>
<text x="479.65" y="92.08" font-size="8.00" text-anchor="middle" stroke="#1e1e1e" stroke-width="0.25" fill="#1e1e1e">b</text>
<text x="489.25" y="80.33" font-size="8.00" text-anchor="middle" stroke="#1e1e1e" stroke-width="0.25" fill="#1e1e1e">a</text>
<text x="489.25" y="89.78" font-size="8.00" text-anchor="middle" stroke="#1e1e1e" stroke-width="0.25" fill="#1e1e1e">b</text>
<text x="498.75" y="43.63" font-size="8.00" text-anchor="middle" stroke="#1e1e1e" stroke-width="0.25" fill="#1e1e1e">a</text>
<text x="498.75" y="53.48" font-size="8.00" text-anchor="middle" stroke="#1e1e1e" stroke-width="0.25" fill="#1e1e1e">b</text>
<text x="508.45" y="31.48" font-size="8.00" text-anchor="middle" stroke="#1e1e1e" stroke-width="0.25" fill="#1e1e1e">b</text>
<text x="0" y="0" font-size="19.61" font-weight="bold" fill="#111" stroke="#111" stroke-width="0.55" transform="translate(-1.00 206.00) scale(1.0 1)">E</text>
<line x1="35.30" y1="199.00" x2="35.30" y2="322.60" stroke="#141414" stroke-width="1.3"/>
<line x1="32.30" y1="322.00" x2="35.30" y2="322.00" stroke="#141414" stroke-width="1.25"/>
<text x="31.70" y="325.00" font-size="8.05" text-anchor="end" stroke="#1e1e1e" stroke-width="0.32" fill="#1e1e1e">0</text>
<line x1="32.30" y1="291.40" x2="35.30" y2="291.40" stroke="#141414" stroke-width="1.25"/>
<text x="31.70" y="294.40" font-size="8.05" text-anchor="end" stroke="#1e1e1e" stroke-width="0.32" fill="#1e1e1e">10</text>
<line x1="32.30" y1="260.80" x2="35.30" y2="260.80" stroke="#141414" stroke-width="1.25"/>
<text x="31.70" y="263.80" font-size="8.05" text-anchor="end" stroke="#1e1e1e" stroke-width="0.32" fill="#1e1e1e">20</text>
<line x1="32.30" y1="230.20" x2="35.30" y2="230.20" stroke="#141414" stroke-width="1.25"/>
<text x="31.70" y="233.20" font-size="8.05" text-anchor="end" stroke="#1e1e1e" stroke-width="0.32" fill="#1e1e1e">30</text>
<line x1="32.30" y1="199.60" x2="35.30" y2="199.60" stroke="#141414" stroke-width="1.25"/>
<text x="31.70" y="202.60" font-size="8.05" text-anchor="end" stroke="#1e1e1e" stroke-width="0.32" fill="#1e1e1e">40</text>
<line x1="35.30" y1="322.00" x2="178.00" y2="322.00" stroke="#141414" stroke-width="1.25"/>
<text x="0" y="0" font-size="8.36" font-weight="bold" text-anchor="middle" fill="#1e1e1e" stroke="#1e1e1e" stroke-width="0.28" transform="translate(16.01 260.70) rotate(-90)">Food Intake (g)</text>
<text x="52.30" y="331.00" font-size="7.60" text-anchor="middle" stroke="#1e1e1e" stroke-width="0.32" fill="#1e1e1e">1h</text>
<text x="88.55" y="331.00" font-size="7.60" text-anchor="middle" stroke="#1e1e1e" stroke-width="0.32" fill="#1e1e1e">3h</text>
<text x="124.80" y="331.00" font-size="7.60" text-anchor="middle" stroke="#1e1e1e" stroke-width="0.32" fill="#1e1e1e">6h</text>
<text x="161.05" y="331.00" font-size="7.60" text-anchor="middle" stroke="#1e1e1e" stroke-width="0.32" fill="#1e1e1e">24h</text>
<rect x="38.30" y="313.43" width="4.50" height="8.57" fill="#ffffff" stroke="#141414" stroke-width="0.95"/>
<line x1="40.55" y1="313.43" x2="40.55" y2="311.60" stroke="#141414" stroke-width="0.7"/>
<line x1="39.15" y1="311.60" x2="41.95" y2="311.60" stroke="#141414" stroke-width="0.7"/>
<line x1="40.55" y1="313.43" x2="40.55" y2="315.27" stroke="#555" stroke-width="0.5"/>
<line x1="39.15" y1="315.27" x2="41.95" y2="315.27" stroke="#555" stroke-width="0.5"/>
<text x="40.55" y="308.13" font-size="7.60" text-anchor="middle" stroke="#1e1e1e" stroke-width="0.25" fill="#1e1e1e">a</text>
<rect x="46.20" y="313.74" width="4.50" height="8.26" fill="#f8d3bd" stroke="#141414" stroke-width="0.95"/>
<line x1="48.45" y1="313.74" x2="48.45" y2="311.90" stroke="#141414" stroke-width="0.7"/>
<line x1="47.05" y1="311.90" x2="49.85" y2="311.90" stroke="#141414" stroke-width="0.7"/>
<line x1="48.45" y1="313.74" x2="48.45" y2="315.57" stroke="#555" stroke-width="0.5"/>
<line x1="47.05" y1="315.57" x2="49.85" y2="315.57" stroke="#555" stroke-width="0.5"/>
<text x="48.45" y="309.53" font-size="7.60" text-anchor="middle" stroke="#1e1e1e" stroke-width="0.25" fill="#1e1e1e">a</text>
<rect x="54.10" y="312.82" width="4.50" height="9.18" fill="#f6dc78" stroke="#141414" stroke-width="0.95"/>
<line x1="56.35" y1="312.82" x2="56.35" y2="310.98" stroke="#141414" stroke-width="0.7"/>
<line x1="54.95" y1="310.98" x2="57.75" y2="310.98" stroke="#141414" stroke-width="0.7"/>
<line x1="56.35" y1="312.82" x2="56.35" y2="314.66" stroke="#555" stroke-width="0.5"/>
<line x1="54.95" y1="314.66" x2="57.75" y2="314.66" stroke="#555" stroke-width="0.5"/>
<text x="56.35" y="309.53" font-size="7.60" text-anchor="middle" stroke="#1e1e1e" stroke-width="0.25" fill="#1e1e1e">a</text>
<rect x="62.00" y="314.04" width="4.50" height="7.96" fill="#a8cc8c" stroke="#141414" stroke-width="0.95"/>
<line x1="64.25" y1="314.04" x2="64.25" y2="312.51" stroke="#141414" stroke-width="0.7"/>
<line x1="62.85" y1="312.51" x2="65.65" y2="312.51" stroke="#141414" stroke-width="0.7"/>
<line x1="64.25" y1="314.04" x2="64.25" y2="315.57" stroke="#555" stroke-width="0.5"/>
<line x1="62.85" y1="315.57" x2="65.65" y2="315.57" stroke="#555" stroke-width="0.5"/>
<text x="64.25" y="309.53" font-size="7.60" text-anchor="middle" stroke="#1e1e1e" stroke-width="0.25" fill="#1e1e1e">a</text>
<rect x="74.55" y="300.58" width="4.50" height="21.42" fill="#ffffff" stroke="#141414" stroke-width="0.95"/>
<line x1="76.80" y1="300.58" x2="76.80" y2="299.05" stroke="#141414" stroke-width="0.7"/>
<line x1="75.40" y1="299.05" x2="78.20" y2="299.05" stroke="#141414" stroke-width="0.7"/>
<line x1="76.80" y1="300.58" x2="76.80" y2="302.11" stroke="#555" stroke-width="0.5"/>
<line x1="75.40" y1="302.11" x2="78.20" y2="302.11" stroke="#555" stroke-width="0.5"/>
<text x="76.80" y="292.93" font-size="7.60" text-anchor="middle" stroke="#1e1e1e" stroke-width="0.25" fill="#1e1e1e">a</text>
<rect x="82.45" y="300.89" width="4.50" height="21.11" fill="#f8d3bd" stroke="#141414" stroke-width="0.95"/>
<line x1="84.70" y1="300.89" x2="84.70" y2="299.05" stroke="#141414" stroke-width="0.7"/>
<line x1="83.30" y1="299.05" x2="86.10" y2="299.05" stroke="#141414" stroke-width="0.7"/>
<line x1="84.70" y1="300.89" x2="84.70" y2="302.72" stroke="#555" stroke-width="0.5"/>
<line x1="83.30" y1="302.72" x2="86.10" y2="302.72" stroke="#555" stroke-width="0.5"/>
<text x="84.70" y="295.43" font-size="7.60" text-anchor="middle" stroke="#1e1e1e" stroke-width="0.25" fill="#1e1e1e">a</text>
<rect x="90.35" y="307.01" width="4.50" height="14.99" fill="#f6dc78" stroke="#141414" stroke-width="0.95"/>
<line x1="92.60" y1="307.01" x2="92.60" y2="305.17" stroke="#141414" stroke-width="0.7"/>
<line x1="91.20" y1="305.17" x2="94.00" y2="305.17" stroke="#141414" stroke-width="0.7"/>
<line x1="92.60" y1="307.01" x2="92.60" y2="308.84" stroke="#555" stroke-width="0.5"/>
<line x1="91.20" y1="308.84" x2="94.00" y2="308.84" stroke="#555" stroke-width="0.5"/>
<text x="92.60" y="304.24" font-size="7.60" text-anchor="middle" stroke="#1e1e1e" stroke-width="0.25" fill="#1e1e1e">b</text>
<rect x="98.25" y="306.09" width="4.50" height="15.91" fill="#a8cc8c" stroke="#141414" stroke-width="0.95"/>
<line x1="100.50" y1="306.09" x2="100.50" y2="304.25" stroke="#141414" stroke-width="0.7"/>
<line x1="99.10" y1="304.25" x2="101.90" y2="304.25" stroke="#141414" stroke-width="0.7"/>
<line x1="100.50" y1="306.09" x2="100.50" y2="307.92" stroke="#555" stroke-width="0.5"/>
<line x1="99.10" y1="307.92" x2="101.90" y2="307.92" stroke="#555" stroke-width="0.5"/>
<text x="100.50" y="302.34" font-size="7.60" text-anchor="middle" stroke="#1e1e1e" stroke-width="0.25" fill="#1e1e1e">b</text>
<rect x="110.80" y="283.14" width="4.50" height="38.86" fill="#ffffff" stroke="#141414" stroke-width="0.95"/>
<line x1="113.05" y1="283.14" x2="113.05" y2="281.30" stroke="#141414" stroke-width="0.7"/>
<line x1="111.65" y1="281.30" x2="114.45" y2="281.30" stroke="#141414" stroke-width="0.7"/>
<line x1="113.05" y1="283.14" x2="113.05" y2="284.97" stroke="#555" stroke-width="0.5"/>
<line x1="111.65" y1="284.97" x2="114.45" y2="284.97" stroke="#555" stroke-width="0.5"/>
<text x="113.05" y="276.23" font-size="7.60" text-anchor="middle" stroke="#1e1e1e" stroke-width="0.25" fill="#1e1e1e">a</text>
<rect x="118.70" y="283.44" width="4.50" height="38.56" fill="#f8d3bd" stroke="#141414" stroke-width="0.95"/>
<line x1="120.95" y1="283.44" x2="120.95" y2="281.30" stroke="#141414" stroke-width="0.7"/>
<line x1="119.55" y1="281.30" x2="122.35" y2="281.30" stroke="#141414" stroke-width="0.7"/>
<line x1="120.95" y1="283.44" x2="120.95" y2="285.59" stroke="#555" stroke-width="0.5"/>
<line x1="119.55" y1="285.59" x2="122.35" y2="285.59" stroke="#555" stroke-width="0.5"/>
<text x="120.95" y="277.83" font-size="7.60" text-anchor="middle" stroke="#1e1e1e" stroke-width="0.25" fill="#1e1e1e">a</text>
<rect x="126.60" y="304.56" width="4.50" height="17.44" fill="#f6dc78" stroke="#141414" stroke-width="0.95"/>
<line x1="128.85" y1="304.56" x2="128.85" y2="302.72" stroke="#141414" stroke-width="0.7"/>
<line x1="127.45" y1="302.72" x2="130.25" y2="302.72" stroke="#141414" stroke-width="0.7"/>
<line x1="128.85" y1="304.56" x2="128.85" y2="306.39" stroke="#555" stroke-width="0.5"/>
<line x1="127.45" y1="306.39" x2="130.25" y2="306.39" stroke="#555" stroke-width="0.5"/>
<text x="128.85" y="299.04" font-size="7.60" text-anchor="middle" stroke="#1e1e1e" stroke-width="0.25" fill="#1e1e1e">b</text>
<rect x="134.50" y="301.80" width="4.50" height="20.20" fill="#a8cc8c" stroke="#141414" stroke-width="0.95"/>
<line x1="136.75" y1="301.80" x2="136.75" y2="299.66" stroke="#141414" stroke-width="0.7"/>
<line x1="135.35" y1="299.66" x2="138.15" y2="299.66" stroke="#141414" stroke-width="0.7"/>
<line x1="136.75" y1="301.80" x2="136.75" y2="303.95" stroke="#555" stroke-width="0.5"/>
<line x1="135.35" y1="303.95" x2="138.15" y2="303.95" stroke="#555" stroke-width="0.5"/>
<text x="136.75" y="296.54" font-size="7.60" text-anchor="middle" stroke="#1e1e1e" stroke-width="0.25" fill="#1e1e1e">b</text>
<rect x="147.05" y="220.41" width="4.50" height="101.59" fill="#ffffff" stroke="#141414" stroke-width="0.95"/>
<line x1="149.30" y1="220.41" x2="149.30" y2="217.35" stroke="#141414" stroke-width="0.7"/>
<line x1="147.90" y1="217.35" x2="150.70" y2="217.35" stroke="#141414" stroke-width="0.7"/>
<line x1="149.30" y1="220.41" x2="149.30" y2="223.47" stroke="#555" stroke-width="0.5"/>
<line x1="147.90" y1="223.47" x2="150.70" y2="223.47" stroke="#555" stroke-width="0.5"/>
<text x="149.30" y="214.63" font-size="7.60" text-anchor="middle" stroke="#1e1e1e" stroke-width="0.25" fill="#1e1e1e">a</text>
<rect x="154.95" y="224.69" width="4.50" height="97.31" fill="#f8d3bd" stroke="#141414" stroke-width="0.95"/>
<line x1="157.20" y1="224.69" x2="157.20" y2="221.78" stroke="#141414" stroke-width="0.7"/>
<line x1="155.80" y1="221.78" x2="158.60" y2="221.78" stroke="#141414" stroke-width="0.7"/>
<line x1="157.20" y1="224.69" x2="157.20" y2="227.60" stroke="#555" stroke-width="0.5"/>
<line x1="155.80" y1="227.60" x2="158.60" y2="227.60" stroke="#555" stroke-width="0.5"/>
<text x="157.20" y="219.53" font-size="7.60" text-anchor="middle" stroke="#1e1e1e" stroke-width="0.25" fill="#1e1e1e">a</text>
<rect x="162.85" y="299.36" width="4.50" height="22.64" fill="#f6dc78" stroke="#141414" stroke-width="0.95"/>
<line x1="165.10" y1="299.36" x2="165.10" y2="296.60" stroke="#141414" stroke-width="0.7"/>
<line x1="163.70" y1="296.60" x2="166.50" y2="296.60" stroke="#141414" stroke-width="0.7"/>
<line x1="165.10" y1="299.36" x2="165.10" y2="302.11" stroke="#555" stroke-width="0.5"/>
<line x1="163.70" y1="302.11" x2="166.50" y2="302.11" stroke="#555" stroke-width="0.5"/>
<text x="165.10" y="291.44" font-size="7.60" text-anchor="middle" stroke="#1e1e1e" stroke-width="0.25" fill="#1e1e1e">b</text>
<rect x="170.75" y="283.44" width="4.50" height="38.56" fill="#a8cc8c" stroke="#141414" stroke-width="0.95"/>
<line x1="173.00" y1="283.44" x2="173.00" y2="279.16" stroke="#141414" stroke-width="0.7"/>
<line x1="171.60" y1="279.16" x2="174.40" y2="279.16" stroke="#141414" stroke-width="0.7"/>
<line x1="173.00" y1="283.44" x2="173.00" y2="287.73" stroke="#555" stroke-width="0.5"/>
<line x1="171.60" y1="287.73" x2="174.40" y2="287.73" stroke="#555" stroke-width="0.5"/>
<text x="173.00" y="278.23" font-size="7.60" text-anchor="middle" stroke="#1e1e1e" stroke-width="0.25" fill="#1e1e1e">c</text>
<rect x="40.80" y="201.00" width="11.00" height="3.80" fill="#ffffff" stroke="#141414" stroke-width="1.4"/>
<text x="57.70" y="205.40" font-size="7.00" text-anchor="start" stroke="#1e1e1e" stroke-width="0.15" fill="#1e1e1e">Veh</text>
<rect x="40.80" y="212.70" width="11.00" height="3.80" fill="#f8d3bd" stroke="#141414" stroke-width="1.4"/>
<text x="57.70" y="217.10" font-size="7.00" text-anchor="start" stroke="#1e1e1e" stroke-width="0.15" fill="#1e1e1e">GIP-085</text>
<rect x="40.80" y="224.40" width="11.00" height="3.80" fill="#f6dc78" stroke="#141414" stroke-width="1.4"/>
<text x="57.70" y="228.80" font-size="7.00" text-anchor="start" stroke="#1e1e1e" stroke-width="0.15" fill="#1e1e1e">GLP-140</text>
<rect x="40.80" y="236.10" width="11.00" height="3.80" fill="#a8cc8c" stroke="#141414" stroke-width="1.4"/>
<text x="57.70" y="240.50" font-size="7.00" text-anchor="start" stroke="#1e1e1e" stroke-width="0.15" fill="#1e1e1e">Combo</text>
<text x="0" y="0" font-size="19.61" font-weight="bold" fill="#111" stroke="#111" stroke-width="0.55" transform="translate(195.50 206.70) scale(1.0 1)">F</text>
<line x1="237.00" y1="199.20" x2="237.00" y2="322.60" stroke="#141414" stroke-width="1.3"/>
<line x1="234.00" y1="322.00" x2="237.00" y2="322.00" stroke="#141414" stroke-width="1.25"/>
<text x="233.40" y="325.00" font-size="8.05" text-anchor="end" stroke="#1e1e1e" stroke-width="0.32" fill="#1e1e1e">0.0</text>
<line x1="234.00" y1="291.45" x2="237.00" y2="291.45" stroke="#141414" stroke-width="1.25"/>
<text x="233.40" y="294.45" font-size="8.05" text-anchor="end" stroke="#1e1e1e" stroke-width="0.32" fill="#1e1e1e">0.5</text>
<line x1="234.00" y1="260.90" x2="237.00" y2="260.90" stroke="#141414" stroke-width="1.25"/>
<text x="233.40" y="263.90" font-size="8.05" text-anchor="end" stroke="#1e1e1e" stroke-width="0.32" fill="#1e1e1e">1.0</text>
<line x1="234.00" y1="230.35" x2="237.00" y2="230.35" stroke="#141414" stroke-width="1.25"/>
<text x="233.40" y="233.35" font-size="8.05" text-anchor="end" stroke="#1e1e1e" stroke-width="0.32" fill="#1e1e1e">1.5</text>
<line x1="234.00" y1="199.80" x2="237.00" y2="199.80" stroke="#141414" stroke-width="1.25"/>
<text x="233.40" y="202.80" font-size="8.05" text-anchor="end" stroke="#1e1e1e" stroke-width="0.32" fill="#1e1e1e">2.0</text>
<line x1="237.00" y1="322.00" x2="380.00" y2="322.00" stroke="#141414" stroke-width="1.25"/>
<text x="0" y="0" font-size="7.9" font-weight="bold" text-anchor="middle" fill="#1e1e1e" stroke="#1e1e1e" stroke-width="0.28" transform="translate(211.54 262.00) rotate(-90)">Kaolin intake (g)</text>
<text x="253.50" y="331.00" font-size="7.60" text-anchor="middle" stroke="#1e1e1e" stroke-width="0.32" fill="#1e1e1e">1h</text>
<text x="289.90" y="331.00" font-size="7.60" text-anchor="middle" stroke="#1e1e1e" stroke-width="0.32" fill="#1e1e1e">3h</text>
<text x="326.30" y="331.00" font-size="7.60" text-anchor="middle" stroke="#1e1e1e" stroke-width="0.32" fill="#1e1e1e">6h</text>
<text x="362.70" y="331.00" font-size="7.60" text-anchor="middle" stroke="#1e1e1e" stroke-width="0.32" fill="#1e1e1e">24h</text>
<rect x="240.30" y="322.00" width="4.70" height="0.00" fill="#ffffff" stroke="#141414" stroke-width="0.95"/>
<text x="242.65" y="318.83" font-size="7.60" text-anchor="middle" stroke="#1e1e1e" stroke-width="0.25" fill="#1e1e1e">a</text>
<rect x="248.25" y="320.78" width="4.70" height="1.22" fill="#f8d3bd" stroke="#141414" stroke-width="0.95"/>
<line x1="250.60" y1="320.78" x2="250.60" y2="320.17" stroke="#141414" stroke-width="0.7"/>
<line x1="249.20" y1="320.17" x2="252.00" y2="320.17" stroke="#141414" stroke-width="0.7"/>
<text x="250.60" y="316.23" font-size="7.60" text-anchor="middle" stroke="#1e1e1e" stroke-width="0.25" fill="#1e1e1e">a</text>
<rect x="256.20" y="303.98" width="4.70" height="18.02" fill="#f6dc78" stroke="#141414" stroke-width="0.95"/>
<line x1="258.55" y1="303.98" x2="258.55" y2="299.09" stroke="#141414" stroke-width="0.7"/>
<line x1="257.15" y1="299.09" x2="259.95" y2="299.09" stroke="#141414" stroke-width="0.7"/>
<line x1="258.55" y1="303.98" x2="258.55" y2="308.86" stroke="#555" stroke-width="0.5"/>
<line x1="257.15" y1="308.86" x2="259.95" y2="308.86" stroke="#555" stroke-width="0.5"/>
<text x="258.55" y="296.84" font-size="7.60" text-anchor="middle" stroke="#1e1e1e" stroke-width="0.25" fill="#1e1e1e">b</text>
<rect x="264.15" y="319.56" width="4.70" height="2.44" fill="#a8cc8c" stroke="#141414" stroke-width="0.95"/>
<line x1="266.50" y1="319.56" x2="266.50" y2="318.33" stroke="#141414" stroke-width="0.7"/>
<line x1="265.10" y1="318.33" x2="267.90" y2="318.33" stroke="#141414" stroke-width="0.7"/>
<text x="266.50" y="313.73" font-size="7.60" text-anchor="middle" stroke="#1e1e1e" stroke-width="0.25" fill="#1e1e1e">a</text>
<rect x="276.55" y="320.78" width="4.70" height="1.22" fill="#ffffff" stroke="#141414" stroke-width="0.95"/>
<line x1="278.90" y1="320.78" x2="278.90" y2="320.17" stroke="#141414" stroke-width="0.7"/>
<line x1="277.50" y1="320.17" x2="280.30" y2="320.17" stroke="#141414" stroke-width="0.7"/>
<text x="278.90" y="314.53" font-size="7.60" text-anchor="middle" stroke="#1e1e1e" stroke-width="0.25" fill="#1e1e1e">a</text>
<rect x="284.50" y="320.17" width="4.70" height="1.83" fill="#f8d3bd" stroke="#141414" stroke-width="0.95"/>
<line x1="286.85" y1="320.17" x2="286.85" y2="319.56" stroke="#141414" stroke-width="0.7"/>
<line x1="285.45" y1="319.56" x2="288.25" y2="319.56" stroke="#141414" stroke-width="0.7"/>
<text x="286.85" y="313.73" font-size="7.60" text-anchor="middle" stroke="#1e1e1e" stroke-width="0.25" fill="#1e1e1e">a</text>
<rect x="292.45" y="271.90" width="4.70" height="50.10" fill="#f6dc78" stroke="#141414" stroke-width="0.95"/>
<line x1="294.80" y1="271.90" x2="294.80" y2="260.29" stroke="#141414" stroke-width="0.7"/>
<line x1="293.40" y1="260.29" x2="296.20" y2="260.29" stroke="#141414" stroke-width="0.7"/>
<line x1="294.80" y1="271.90" x2="294.80" y2="283.51" stroke="#555" stroke-width="0.5"/>
<line x1="293.40" y1="283.51" x2="296.20" y2="283.51" stroke="#555" stroke-width="0.5"/>
<text x="294.80" y="259.14" font-size="7.60" text-anchor="middle" stroke="#1e1e1e" stroke-width="0.25" fill="#1e1e1e">b</text>
<rect x="300.40" y="298.17" width="4.70" height="23.83" fill="#a8cc8c" stroke="#141414" stroke-width="0.95"/>
<line x1="302.75" y1="298.17" x2="302.75" y2="288.39" stroke="#141414" stroke-width="0.7"/>
<line x1="301.35" y1="288.39" x2="304.15" y2="288.39" stroke="#141414" stroke-width="0.7"/>
<line x1="302.75" y1="298.17" x2="302.75" y2="307.95" stroke="#555" stroke-width="0.5"/>
<line x1="301.35" y1="307.95" x2="304.15" y2="307.95" stroke="#555" stroke-width="0.5"/>
<text x="302.75" y="284.84" font-size="7.60" text-anchor="middle" stroke="#1e1e1e" stroke-width="0.25" fill="#1e1e1e">ab</text>
<rect x="312.80" y="320.78" width="4.70" height="1.22" fill="#ffffff" stroke="#141414" stroke-width="0.95"/>
<line x1="315.15" y1="320.78" x2="315.15" y2="320.17" stroke="#141414" stroke-width="0.7"/>
<line x1="313.75" y1="320.17" x2="316.55" y2="320.17" stroke="#141414" stroke-width="0.7"/>
<text x="315.15" y="314.13" font-size="7.60" text-anchor="middle" stroke="#1e1e1e" stroke-width="0.25" fill="#1e1e1e">a</text>
<rect x="320.75" y="320.17" width="4.70" height="1.83" fill="#f8d3bd" stroke="#141414" stroke-width="0.95"/>
<line x1="323.10" y1="320.17" x2="323.10" y2="319.56" stroke="#141414" stroke-width="0.7"/>
<line x1="321.70" y1="319.56" x2="324.50" y2="319.56" stroke="#141414" stroke-width="0.7"/>
<text x="323.10" y="314.13" font-size="7.60" text-anchor="middle" stroke="#1e1e1e" stroke-width="0.25" fill="#1e1e1e">a</text>
<rect x="328.70" y="258.46" width="4.70" height="63.54" fill="#f6dc78" stroke="#141414" stroke-width="0.95"/>
<line x1="331.05" y1="258.46" x2="331.05" y2="241.35" stroke="#141414" stroke-width="0.7"/>
<line x1="329.65" y1="241.35" x2="332.45" y2="241.35" stroke="#141414" stroke-width="0.7"/>
<line x1="331.05" y1="258.46" x2="331.05" y2="275.56" stroke="#555" stroke-width="0.5"/>
<line x1="329.65" y1="275.56" x2="332.45" y2="275.56" stroke="#555" stroke-width="0.5"/>
<text x="331.05" y="240.74" font-size="7.60" text-anchor="middle" stroke="#1e1e1e" stroke-width="0.25" fill="#1e1e1e">b</text>
<rect x="336.65" y="285.95" width="4.70" height="36.05" fill="#a8cc8c" stroke="#141414" stroke-width="0.95"/>
<line x1="339.00" y1="285.95" x2="339.00" y2="274.95" stroke="#141414" stroke-width="0.7"/>
<line x1="337.60" y1="274.95" x2="340.40" y2="274.95" stroke="#141414" stroke-width="0.7"/>
<line x1="339.00" y1="285.95" x2="339.00" y2="296.95" stroke="#555" stroke-width="0.5"/>
<line x1="337.60" y1="296.95" x2="340.40" y2="296.95" stroke="#555" stroke-width="0.5"/>
<text x="339.00" y="273.14" font-size="7.60" text-anchor="middle" stroke="#1e1e1e" stroke-width="0.25" fill="#1e1e1e">b</text>
<rect x="349.05" y="314.67" width="4.70" height="7.33" fill="#ffffff" stroke="#141414" stroke-width="0.95"/>
<line x1="351.40" y1="314.67" x2="351.40" y2="311.00" stroke="#141414" stroke-width="0.7"/>
<line x1="350.00" y1="311.00" x2="352.80" y2="311.00" stroke="#141414" stroke-width="0.7"/>
<line x1="351.40" y1="314.67" x2="351.40" y2="318.33" stroke="#555" stroke-width="0.5"/>
<line x1="350.00" y1="318.33" x2="352.80" y2="318.33" stroke="#555" stroke-width="0.5"/>
<text x="351.40" y="304.03" font-size="7.60" text-anchor="middle" stroke="#1e1e1e" stroke-width="0.25" fill="#1e1e1e">a</text>
<rect x="357.00" y="314.67" width="4.70" height="7.33" fill="#f8d3bd" stroke="#141414" stroke-width="0.95"/>
<line x1="359.35" y1="314.67" x2="359.35" y2="311.00" stroke="#141414" stroke-width="0.7"/>
<line x1="357.95" y1="311.00" x2="360.75" y2="311.00" stroke="#141414" stroke-width="0.7"/>
<line x1="359.35" y1="314.67" x2="359.35" y2="318.33" stroke="#555" stroke-width="0.5"/>
<line x1="357.95" y1="318.33" x2="360.75" y2="318.33" stroke="#555" stroke-width="0.5"/>
<text x="359.35" y="306.73" font-size="7.60" text-anchor="middle" stroke="#1e1e1e" stroke-width="0.25" fill="#1e1e1e">a</text>
<rect x="364.95" y="247.46" width="4.70" height="74.54" fill="#f6dc78" stroke="#141414" stroke-width="0.95"/>
<line x1="367.30" y1="247.46" x2="367.30" y2="230.96" stroke="#141414" stroke-width="0.7"/>
<line x1="365.90" y1="230.96" x2="368.70" y2="230.96" stroke="#141414" stroke-width="0.7"/>
<line x1="367.30" y1="247.46" x2="367.30" y2="263.95" stroke="#555" stroke-width="0.5"/>
<line x1="365.90" y1="263.95" x2="368.70" y2="263.95" stroke="#555" stroke-width="0.5"/>
<text x="367.30" y="225.94" font-size="7.60" text-anchor="middle" stroke="#1e1e1e" stroke-width="0.25" fill="#1e1e1e">b</text>
<rect x="372.90" y="270.06" width="4.70" height="51.94" fill="#a8cc8c" stroke="#141414" stroke-width="0.95"/>
<line x1="375.25" y1="270.06" x2="375.25" y2="258.46" stroke="#141414" stroke-width="0.7"/>
<line x1="373.85" y1="258.46" x2="376.65" y2="258.46" stroke="#141414" stroke-width="0.7"/>
<line x1="375.25" y1="270.06" x2="375.25" y2="281.67" stroke="#555" stroke-width="0.5"/>
<line x1="373.85" y1="281.67" x2="376.65" y2="281.67" stroke="#555" stroke-width="0.5"/>
<text x="375.25" y="252.84" font-size="7.60" text-anchor="middle" stroke="#1e1e1e" stroke-width="0.25" fill="#1e1e1e">b</text>
<text x="0" y="0" font-size="19.61" font-weight="bold" fill="#111" stroke="#111" stroke-width="0.55" transform="translate(412.00 205.40) scale(1.0 1)">G</text>
<line x1="447.90" y1="199.45" x2="447.90" y2="322.75" stroke="#141414" stroke-width="1.3"/>
<line x1="444.90" y1="200.05" x2="447.90" y2="200.05" stroke="#141414" stroke-width="1.25"/>
<text x="444.30" y="203.05" font-size="8.05" text-anchor="end" stroke="#1e1e1e" stroke-width="0.32" fill="#1e1e1e">10</text>
<line x1="444.90" y1="220.40" x2="447.90" y2="220.40" stroke="#141414" stroke-width="1.25"/>
<text x="444.30" y="223.40" font-size="8.05" text-anchor="end" stroke="#1e1e1e" stroke-width="0.32" fill="#1e1e1e">0</text>
<line x1="444.90" y1="240.75" x2="447.90" y2="240.75" stroke="#141414" stroke-width="1.25"/>
<text x="444.30" y="243.75" font-size="8.05" text-anchor="end" stroke="#1e1e1e" stroke-width="0.32" fill="#1e1e1e">-10</text>
<line x1="444.90" y1="261.10" x2="447.90" y2="261.10" stroke="#141414" stroke-width="1.25"/>
<text x="444.30" y="264.10" font-size="8.05" text-anchor="end" stroke="#1e1e1e" stroke-width="0.32" fill="#1e1e1e">-20</text>
<line x1="444.90" y1="281.45" x2="447.90" y2="281.45" stroke="#141414" stroke-width="1.25"/>
<text x="444.30" y="284.45" font-size="8.05" text-anchor="end" stroke="#1e1e1e" stroke-width="0.32" fill="#1e1e1e">-30</text>
<line x1="444.90" y1="301.80" x2="447.90" y2="301.80" stroke="#141414" stroke-width="1.25"/>
<text x="444.30" y="304.80" font-size="8.05" text-anchor="end" stroke="#1e1e1e" stroke-width="0.32" fill="#1e1e1e">-40</text>
<line x1="444.90" y1="322.15" x2="447.90" y2="322.15" stroke="#141414" stroke-width="1.25"/>
<text x="444.30" y="325.15" font-size="8.05" text-anchor="end" stroke="#1e1e1e" stroke-width="0.32" fill="#1e1e1e">-50</text>
<line x1="447.90" y1="220.40" x2="520.00" y2="220.40" stroke="#141414" stroke-width="1.25"/>
<line x1="447.90" y1="322.15" x2="520.00" y2="322.15" stroke="#141414" stroke-width="1.25"/>
<text x="0" y="0" font-size="8.1" font-weight="bold" text-anchor="middle" fill="#1e1e1e" stroke="#1e1e1e" stroke-width="0.28" transform="translate(423.12 261.80) rotate(-90)">Body weight change (g)</text>
<rect x="454.40" y="212.46" width="10.30" height="7.94" fill="#ffffff" stroke="#141414" stroke-width="1.0"/>
<line x1="459.55" y1="212.46" x2="459.55" y2="210.02" stroke="#141414" stroke-width="0.7"/>
<line x1="457.75" y1="210.02" x2="461.35" y2="210.02" stroke="#141414" stroke-width="0.7"/>
<line x1="459.55" y1="212.46" x2="459.55" y2="214.91" stroke="#555" stroke-width="0.5"/>
<line x1="457.75" y1="214.91" x2="461.35" y2="214.91" stroke="#555" stroke-width="0.5"/>
<text x="459.55" y="206.21" font-size="8.30" text-anchor="middle" stroke="#1e1e1e" stroke-width="0.25" fill="#1e1e1e">a</text>
<rect x="470.20" y="214.91" width="10.30" height="5.49" fill="#f8d3bd" stroke="#141414" stroke-width="1.0"/>
<line x1="475.35" y1="214.91" x2="475.35" y2="211.85" stroke="#141414" stroke-width="0.7"/>
<line x1="473.55" y1="211.85" x2="477.15" y2="211.85" stroke="#141414" stroke-width="0.7"/>
<line x1="475.35" y1="214.91" x2="475.35" y2="217.96" stroke="#555" stroke-width="0.5"/>
<line x1="473.55" y1="217.96" x2="477.15" y2="217.96" stroke="#555" stroke-width="0.5"/>
<text x="475.35" y="206.21" font-size="8.30" text-anchor="middle" stroke="#1e1e1e" stroke-width="0.25" fill="#1e1e1e">a</text>
<rect x="487.40" y="220.40" width="10.30" height="72.24" fill="#f6dc78" stroke="#141414" stroke-width="1.0"/>
<line x1="492.55" y1="292.64" x2="492.55" y2="295.08" stroke="#141414" stroke-width="0.7"/>
<line x1="490.75" y1="295.08" x2="494.35" y2="295.08" stroke="#141414" stroke-width="0.7"/>
<line x1="492.55" y1="292.64" x2="492.55" y2="290.20" stroke="#555" stroke-width="0.5"/>
<line x1="490.75" y1="290.20" x2="494.35" y2="290.20" stroke="#555" stroke-width="0.5"/>
<text x="492.55" y="305.99" font-size="8.30" text-anchor="middle" stroke="#1e1e1e" stroke-width="0.25" fill="#1e1e1e">b</text>
<rect x="503.20" y="220.40" width="10.30" height="51.89" fill="#a8cc8c" stroke="#141414" stroke-width="1.0"/>
<line x1="508.35" y1="272.29" x2="508.35" y2="277.38" stroke="#141414" stroke-width="0.7"/>
<line x1="506.55" y1="277.38" x2="510.15" y2="277.38" stroke="#141414" stroke-width="0.7"/>
<line x1="508.35" y1="272.29" x2="508.35" y2="267.21" stroke="#555" stroke-width="0.5"/>
<line x1="506.55" y1="267.21" x2="510.15" y2="267.21" stroke="#555" stroke-width="0.5"/>
<text x="508.35" y="288.21" font-size="8.30" text-anchor="middle" stroke="#1e1e1e" stroke-width="0.25" fill="#1e1e1e">c</text>
<text x="0" y="0" font-size="19.61" font-weight="bold" fill="#111" stroke="#111" stroke-width="0.55" transform="translate(-1.40 364.30) scale(1.0 1)">H</text>
<line x1="35.50" y1="361.30" x2="35.50" y2="483.70" stroke="#141414" stroke-width="1.3"/>
<line x1="32.50" y1="483.10" x2="35.50" y2="483.10" stroke="#141414" stroke-width="1.25"/>
<text x="31.90" y="486.10" font-size="8.05" text-anchor="end" stroke="#1e1e1e" stroke-width="0.32" fill="#1e1e1e">0</text>
<line x1="32.50" y1="452.80" x2="35.50" y2="452.80" stroke="#141414" stroke-width="1.25"/>
<text x="31.90" y="455.80" font-size="8.05" text-anchor="end" stroke="#1e1e1e" stroke-width="0.32" fill="#1e1e1e">10</text>
<line x1="32.50" y1="422.50" x2="35.50" y2="422.50" stroke="#141414" stroke-width="1.25"/>
<text x="31.90" y="425.50" font-size="8.05" text-anchor="end" stroke="#1e1e1e" stroke-width="0.32" fill="#1e1e1e">20</text>
<line x1="32.50" y1="392.20" x2="35.50" y2="392.20" stroke="#141414" stroke-width="1.25"/>
<text x="31.90" y="395.20" font-size="8.05" text-anchor="end" stroke="#1e1e1e" stroke-width="0.32" fill="#1e1e1e">30</text>
<line x1="32.50" y1="361.90" x2="35.50" y2="361.90" stroke="#141414" stroke-width="1.25"/>
<text x="31.90" y="364.90" font-size="8.05" text-anchor="end" stroke="#1e1e1e" stroke-width="0.32" fill="#1e1e1e">40</text>
<line x1="35.50" y1="483.10" x2="177.50" y2="483.10" stroke="#141414" stroke-width="1.25"/>
<text x="0" y="0" font-size="8.24" font-weight="bold" text-anchor="middle" fill="#1e1e1e" stroke="#1e1e1e" stroke-width="0.28" transform="translate(15.97 423.00) rotate(-90)">Food Intake (g)</text>
<text x="57.70" y="491.80" font-size="7.60" text-anchor="middle" stroke="#1e1e1e" stroke-width="0.32" fill="#1e1e1e">3h</text>
<text x="106.30" y="491.80" font-size="7.60" text-anchor="middle" stroke="#1e1e1e" stroke-width="0.32" fill="#1e1e1e">6h</text>
<text x="154.90" y="491.80" font-size="7.60" text-anchor="middle" stroke="#1e1e1e" stroke-width="0.32" fill="#1e1e1e">24h</text>
<rect x="39.40" y="454.62" width="6.30" height="28.48" fill="#ffffff" stroke="#141414" stroke-width="0.95"/>
<line x1="42.55" y1="454.62" x2="42.55" y2="452.80" stroke="#141414" stroke-width="0.7"/>
<line x1="41.15" y1="452.80" x2="43.95" y2="452.80" stroke="#141414" stroke-width="0.7"/>
<line x1="42.55" y1="454.62" x2="42.55" y2="456.44" stroke="#555" stroke-width="0.5"/>
<line x1="41.15" y1="456.44" x2="43.95" y2="456.44" stroke="#555" stroke-width="0.5"/>
<text x="42.55" y="448.53" font-size="7.60" text-anchor="middle" stroke="#1e1e1e" stroke-width="0.25" fill="#1e1e1e">a</text>
<rect x="49.60" y="456.13" width="6.30" height="26.97" fill="#cfe1f2" stroke="#141414" stroke-width="0.95"/>
<line x1="52.75" y1="456.13" x2="52.75" y2="454.01" stroke="#141414" stroke-width="0.7"/>
<line x1="51.35" y1="454.01" x2="54.15" y2="454.01" stroke="#141414" stroke-width="0.7"/>
<line x1="52.75" y1="456.13" x2="52.75" y2="458.25" stroke="#555" stroke-width="0.5"/>
<line x1="51.35" y1="458.25" x2="54.15" y2="458.25" stroke="#555" stroke-width="0.5"/>
<text x="52.75" y="448.53" font-size="7.60" text-anchor="middle" stroke="#1e1e1e" stroke-width="0.25" fill="#1e1e1e">a</text>
<rect x="59.80" y="465.22" width="6.30" height="17.88" fill="#f6dc78" stroke="#141414" stroke-width="0.95"/>
<line x1="62.95" y1="465.22" x2="62.95" y2="464.01" stroke="#141414" stroke-width="0.7"/>
<line x1="61.55" y1="464.01" x2="64.35" y2="464.01" stroke="#141414" stroke-width="0.7"/>
<text x="62.95" y="459.84" font-size="7.60" text-anchor="middle" stroke="#1e1e1e" stroke-width="0.25" fill="#1e1e1e">b</text>
<rect x="70.00" y="465.83" width="6.30" height="17.27" fill="#4a6490" stroke="#141414" stroke-width="0.95"/>
<line x1="73.15" y1="465.83" x2="73.15" y2="464.31" stroke="#141414" stroke-width="0.7"/>
<line x1="71.75" y1="464.31" x2="74.55" y2="464.31" stroke="#141414" stroke-width="0.7"/>
<line x1="73.15" y1="465.83" x2="73.15" y2="467.34" stroke="#555" stroke-width="0.5"/>
<line x1="71.75" y1="467.34" x2="74.55" y2="467.34" stroke="#555" stroke-width="0.5"/>
<text x="73.15" y="459.84" font-size="7.60" text-anchor="middle" stroke="#1e1e1e" stroke-width="0.25" fill="#1e1e1e">b</text>
<rect x="87.95" y="442.20" width="6.30" height="40.90" fill="#ffffff" stroke="#141414" stroke-width="0.95"/>
<line x1="91.10" y1="442.20" x2="91.10" y2="440.38" stroke="#141414" stroke-width="0.7"/>
<line x1="89.70" y1="440.38" x2="92.50" y2="440.38" stroke="#141414" stroke-width="0.7"/>
<line x1="91.10" y1="442.20" x2="91.10" y2="444.01" stroke="#555" stroke-width="0.5"/>
<line x1="89.70" y1="444.01" x2="92.50" y2="444.01" stroke="#555" stroke-width="0.5"/>
<text x="91.10" y="434.73" font-size="7.60" text-anchor="middle" stroke="#1e1e1e" stroke-width="0.25" fill="#1e1e1e">a</text>
<rect x="98.15" y="442.80" width="6.30" height="40.30" fill="#cfe1f2" stroke="#141414" stroke-width="0.95"/>
<line x1="101.30" y1="442.80" x2="101.30" y2="440.68" stroke="#141414" stroke-width="0.7"/>
<line x1="99.90" y1="440.68" x2="102.70" y2="440.68" stroke="#141414" stroke-width="0.7"/>
<line x1="101.30" y1="442.80" x2="101.30" y2="444.92" stroke="#555" stroke-width="0.5"/>
<line x1="99.90" y1="444.92" x2="102.70" y2="444.92" stroke="#555" stroke-width="0.5"/>
<text x="101.30" y="434.73" font-size="7.60" text-anchor="middle" stroke="#1e1e1e" stroke-width="0.25" fill="#1e1e1e">a</text>
<rect x="108.35" y="460.38" width="6.30" height="22.73" fill="#f6dc78" stroke="#141414" stroke-width="0.95"/>
<line x1="111.50" y1="460.38" x2="111.50" y2="458.86" stroke="#141414" stroke-width="0.7"/>
<line x1="110.10" y1="458.86" x2="112.90" y2="458.86" stroke="#141414" stroke-width="0.7"/>
<line x1="111.50" y1="460.38" x2="111.50" y2="461.89" stroke="#555" stroke-width="0.5"/>
<line x1="110.10" y1="461.89" x2="112.90" y2="461.89" stroke="#555" stroke-width="0.5"/>
<text x="111.50" y="453.14" font-size="7.60" text-anchor="middle" stroke="#1e1e1e" stroke-width="0.25" fill="#1e1e1e">b</text>
<rect x="118.55" y="461.59" width="6.30" height="21.51" fill="#4a6490" stroke="#141414" stroke-width="0.95"/>
<line x1="121.70" y1="461.59" x2="121.70" y2="459.77" stroke="#141414" stroke-width="0.7"/>
<line x1="120.30" y1="459.77" x2="123.10" y2="459.77" stroke="#141414" stroke-width="0.7"/>
<line x1="121.70" y1="461.59" x2="121.70" y2="463.41" stroke="#555" stroke-width="0.5"/>
<line x1="120.30" y1="463.41" x2="123.10" y2="463.41" stroke="#555" stroke-width="0.5"/>
<text x="121.70" y="455.04" font-size="7.60" text-anchor="middle" stroke="#1e1e1e" stroke-width="0.25" fill="#1e1e1e">b</text>
<rect x="136.50" y="387.05" width="6.30" height="96.05" fill="#ffffff" stroke="#141414" stroke-width="0.95"/>
<line x1="139.65" y1="387.05" x2="139.65" y2="384.93" stroke="#141414" stroke-width="0.7"/>
<line x1="138.25" y1="384.93" x2="141.05" y2="384.93" stroke="#141414" stroke-width="0.7"/>
<line x1="139.65" y1="387.05" x2="139.65" y2="389.17" stroke="#555" stroke-width="0.5"/>
<line x1="138.25" y1="389.17" x2="141.05" y2="389.17" stroke="#555" stroke-width="0.5"/>
<text x="139.65" y="379.73" font-size="7.60" text-anchor="middle" stroke="#1e1e1e" stroke-width="0.25" fill="#1e1e1e">a</text>
<rect x="146.70" y="386.44" width="6.30" height="96.66" fill="#cfe1f2" stroke="#141414" stroke-width="0.95"/>
<line x1="149.85" y1="386.44" x2="149.85" y2="384.32" stroke="#141414" stroke-width="0.7"/>
<line x1="148.45" y1="384.32" x2="151.25" y2="384.32" stroke="#141414" stroke-width="0.7"/>
<line x1="149.85" y1="386.44" x2="149.85" y2="388.56" stroke="#555" stroke-width="0.5"/>
<line x1="148.45" y1="388.56" x2="151.25" y2="388.56" stroke="#555" stroke-width="0.5"/>
<text x="149.85" y="378.93" font-size="7.60" text-anchor="middle" stroke="#1e1e1e" stroke-width="0.25" fill="#1e1e1e">a</text>
<rect x="156.90" y="453.71" width="6.30" height="29.39" fill="#f6dc78" stroke="#141414" stroke-width="0.95"/>
<line x1="160.05" y1="453.71" x2="160.05" y2="451.89" stroke="#141414" stroke-width="0.7"/>
<line x1="158.65" y1="451.89" x2="161.45" y2="451.89" stroke="#141414" stroke-width="0.7"/>
<line x1="160.05" y1="453.71" x2="160.05" y2="455.53" stroke="#555" stroke-width="0.5"/>
<line x1="158.65" y1="455.53" x2="161.45" y2="455.53" stroke="#555" stroke-width="0.5"/>
<text x="160.05" y="447.74" font-size="7.60" text-anchor="middle" stroke="#1e1e1e" stroke-width="0.25" fill="#1e1e1e">b</text>
<rect x="167.10" y="455.22" width="6.30" height="27.88" fill="#4a6490" stroke="#141414" stroke-width="0.95"/>
<line x1="170.25" y1="455.22" x2="170.25" y2="453.41" stroke="#141414" stroke-width="0.7"/>
<line x1="168.85" y1="453.41" x2="171.65" y2="453.41" stroke="#141414" stroke-width="0.7"/>
<line x1="170.25" y1="455.22" x2="170.25" y2="457.04" stroke="#555" stroke-width="0.5"/>
<line x1="168.85" y1="457.04" x2="171.65" y2="457.04" stroke="#555" stroke-width="0.5"/>
<text x="170.25" y="449.24" font-size="7.60" text-anchor="middle" stroke="#1e1e1e" stroke-width="0.25" fill="#1e1e1e">b</text>
<rect x="38.90" y="361.90" width="11.80" height="3.80" fill="#ffffff" stroke="#141414" stroke-width="1.4"/>
<text x="55.80" y="366.30" font-size="7.00" text-anchor="start" stroke="#1e1e1e" stroke-width="0.15" fill="#1e1e1e">Veh ICV/Veh IP</text>
<rect x="38.90" y="373.20" width="11.80" height="3.80" fill="#cfe1f2" stroke="#141414" stroke-width="1.4"/>
<text x="55.80" y="377.60" font-size="7.00" text-anchor="start" stroke="#1e1e1e" stroke-width="0.15" fill="#1e1e1e">GIP-532 ICV/Veh IP</text>
<rect x="38.90" y="384.50" width="11.80" height="3.80" fill="#f6dc78" stroke="#141414" stroke-width="1.4"/>
<text x="55.80" y="388.90" font-size="7.00" text-anchor="start" stroke="#1e1e1e" stroke-width="0.15" fill="#1e1e1e">Veh ICV/GLP-140 IP</text>
<rect x="38.90" y="395.80" width="11.80" height="3.80" fill="#4a6490" stroke="#141414" stroke-width="1.4"/>
<text x="55.80" y="400.20" font-size="7.00" text-anchor="start" stroke="#1e1e1e" stroke-width="0.15" fill="#1e1e1e">GIP-532 ICV/GLP-140 IP</text>
<text x="0" y="0" font-size="19.61" font-weight="bold" fill="#111" stroke="#111" stroke-width="0.55" transform="translate(195.00 364.60) scale(1.0 1)">I</text>
<line x1="237.00" y1="361.50" x2="237.00" y2="484.20" stroke="#141414" stroke-width="1.3"/>
<line x1="234.00" y1="483.60" x2="237.00" y2="483.60" stroke="#141414" stroke-width="1.25"/>
<text x="233.40" y="486.60" font-size="8.05" text-anchor="end" stroke="#1e1e1e" stroke-width="0.32" fill="#1e1e1e">0.0</text>
<line x1="234.00" y1="459.30" x2="237.00" y2="459.30" stroke="#141414" stroke-width="1.25"/>
<text x="233.40" y="462.30" font-size="8.05" text-anchor="end" stroke="#1e1e1e" stroke-width="0.32" fill="#1e1e1e">0.5</text>
<line x1="234.00" y1="435.00" x2="237.00" y2="435.00" stroke="#141414" stroke-width="1.25"/>
<text x="233.40" y="438.00" font-size="8.05" text-anchor="end" stroke="#1e1e1e" stroke-width="0.32" fill="#1e1e1e">1.0</text>
<line x1="234.00" y1="410.70" x2="237.00" y2="410.70" stroke="#141414" stroke-width="1.25"/>
<text x="233.40" y="413.70" font-size="8.05" text-anchor="end" stroke="#1e1e1e" stroke-width="0.32" fill="#1e1e1e">1.5</text>
<line x1="234.00" y1="386.40" x2="237.00" y2="386.40" stroke="#141414" stroke-width="1.25"/>
<text x="233.40" y="389.40" font-size="8.05" text-anchor="end" stroke="#1e1e1e" stroke-width="0.32" fill="#1e1e1e">2.0</text>
<line x1="234.00" y1="362.10" x2="237.00" y2="362.10" stroke="#141414" stroke-width="1.25"/>
<text x="233.40" y="365.10" font-size="8.05" text-anchor="end" stroke="#1e1e1e" stroke-width="0.32" fill="#1e1e1e">2.5</text>
<line x1="237.00" y1="483.60" x2="380.00" y2="483.60" stroke="#141414" stroke-width="1.25"/>
<text x="0" y="0" font-size="8.2" font-weight="bold" text-anchor="middle" fill="#1e1e1e" stroke="#1e1e1e" stroke-width="0.28" transform="translate(211.85 422.50) rotate(-90)">Kaolin intake (g)</text>
<text x="258.00" y="491.80" font-size="7.60" text-anchor="middle" stroke="#1e1e1e" stroke-width="0.32" fill="#1e1e1e">3h</text>
<text x="307.30" y="491.80" font-size="7.60" text-anchor="middle" stroke="#1e1e1e" stroke-width="0.32" fill="#1e1e1e">6h</text>
<text x="356.60" y="491.80" font-size="7.60" text-anchor="middle" stroke="#1e1e1e" stroke-width="0.32" fill="#1e1e1e">24h</text>
<rect x="241.20" y="481.66" width="6.60" height="1.94" fill="#ffffff" stroke="#141414" stroke-width="0.95"/>
<line x1="244.50" y1="481.66" x2="244.50" y2="480.68" stroke="#141414" stroke-width="0.7"/>
<line x1="243.10" y1="480.68" x2="245.90" y2="480.68" stroke="#141414" stroke-width="0.7"/>
<text x="244.50" y="474.43" font-size="7.60" text-anchor="middle" stroke="#1e1e1e" stroke-width="0.25" fill="#1e1e1e">a</text>
<rect x="251.35" y="480.68" width="6.60" height="2.92" fill="#cfe1f2" stroke="#141414" stroke-width="0.95"/>
<line x1="254.65" y1="480.68" x2="254.65" y2="479.23" stroke="#141414" stroke-width="0.7"/>
<line x1="253.25" y1="479.23" x2="256.05" y2="479.23" stroke="#141414" stroke-width="0.7"/>
<text x="254.65" y="471.93" font-size="7.60" text-anchor="middle" stroke="#1e1e1e" stroke-width="0.25" fill="#1e1e1e">a</text>
<rect x="261.50" y="425.28" width="6.60" height="58.32" fill="#f6dc78" stroke="#141414" stroke-width="0.95"/>
<line x1="264.80" y1="425.28" x2="264.80" y2="414.10" stroke="#141414" stroke-width="0.7"/>
<line x1="263.40" y1="414.10" x2="266.20" y2="414.10" stroke="#141414" stroke-width="0.7"/>
<line x1="264.80" y1="425.28" x2="264.80" y2="436.46" stroke="#555" stroke-width="0.5"/>
<line x1="263.40" y1="436.46" x2="266.20" y2="436.46" stroke="#555" stroke-width="0.5"/>
<text x="264.80" y="407.94" font-size="7.60" text-anchor="middle" stroke="#1e1e1e" stroke-width="0.25" fill="#1e1e1e">b</text>
<rect x="271.65" y="451.28" width="6.60" height="32.32" fill="#4a6490" stroke="#141414" stroke-width="0.95"/>
<line x1="274.95" y1="451.28" x2="274.95" y2="442.53" stroke="#141414" stroke-width="0.7"/>
<line x1="273.55" y1="442.53" x2="276.35" y2="442.53" stroke="#141414" stroke-width="0.7"/>
<line x1="274.95" y1="451.28" x2="274.95" y2="460.03" stroke="#555" stroke-width="0.5"/>
<line x1="273.55" y1="460.03" x2="276.35" y2="460.03" stroke="#555" stroke-width="0.5"/>
<text x="274.95" y="433.83" font-size="7.60" text-anchor="middle" stroke="#1e1e1e" stroke-width="0.25" fill="#1e1e1e">c</text>
<rect x="289.95" y="481.17" width="6.60" height="2.43" fill="#ffffff" stroke="#141414" stroke-width="0.95"/>
<line x1="293.25" y1="481.17" x2="293.25" y2="480.20" stroke="#141414" stroke-width="0.7"/>
<line x1="291.85" y1="480.20" x2="294.65" y2="480.20" stroke="#141414" stroke-width="0.7"/>
<text x="293.25" y="473.83" font-size="7.60" text-anchor="middle" stroke="#1e1e1e" stroke-width="0.25" fill="#1e1e1e">a</text>
<rect x="300.10" y="480.68" width="6.60" height="2.92" fill="#cfe1f2" stroke="#141414" stroke-width="0.95"/>
<line x1="303.40" y1="480.68" x2="303.40" y2="479.23" stroke="#141414" stroke-width="0.7"/>
<line x1="302.00" y1="479.23" x2="304.80" y2="479.23" stroke="#141414" stroke-width="0.7"/>
<text x="303.40" y="471.93" font-size="7.60" text-anchor="middle" stroke="#1e1e1e" stroke-width="0.25" fill="#1e1e1e">a</text>
<rect x="310.25" y="419.45" width="6.60" height="64.15" fill="#f6dc78" stroke="#141414" stroke-width="0.95"/>
<line x1="313.55" y1="419.45" x2="313.55" y2="407.54" stroke="#141414" stroke-width="0.7"/>
<line x1="312.15" y1="407.54" x2="314.95" y2="407.54" stroke="#141414" stroke-width="0.7"/>
<line x1="313.55" y1="419.45" x2="313.55" y2="431.36" stroke="#555" stroke-width="0.5"/>
<line x1="312.15" y1="431.36" x2="314.95" y2="431.36" stroke="#555" stroke-width="0.5"/>
<text x="313.55" y="400.74" font-size="7.60" text-anchor="middle" stroke="#1e1e1e" stroke-width="0.25" fill="#1e1e1e">b</text>
<rect x="320.40" y="429.65" width="6.60" height="53.95" fill="#4a6490" stroke="#141414" stroke-width="0.95"/>
<line x1="323.70" y1="429.65" x2="323.70" y2="419.45" stroke="#141414" stroke-width="0.7"/>
<line x1="322.30" y1="419.45" x2="325.10" y2="419.45" stroke="#141414" stroke-width="0.7"/>
<line x1="323.70" y1="429.65" x2="323.70" y2="439.86" stroke="#555" stroke-width="0.5"/>
<line x1="322.30" y1="439.86" x2="325.10" y2="439.86" stroke="#555" stroke-width="0.5"/>
<text x="323.70" y="412.44" font-size="7.60" text-anchor="middle" stroke="#1e1e1e" stroke-width="0.25" fill="#1e1e1e">b</text>
<rect x="338.70" y="475.34" width="6.60" height="8.26" fill="#ffffff" stroke="#141414" stroke-width="0.95"/>
<line x1="342.00" y1="475.34" x2="342.00" y2="470.48" stroke="#141414" stroke-width="0.7"/>
<line x1="340.60" y1="470.48" x2="343.40" y2="470.48" stroke="#141414" stroke-width="0.7"/>
<line x1="342.00" y1="475.34" x2="342.00" y2="480.20" stroke="#555" stroke-width="0.5"/>
<line x1="340.60" y1="480.20" x2="343.40" y2="480.20" stroke="#555" stroke-width="0.5"/>
<text x="342.00" y="467.03" font-size="7.60" text-anchor="middle" stroke="#1e1e1e" stroke-width="0.25" fill="#1e1e1e">a</text>
<rect x="348.85" y="474.37" width="6.60" height="9.23" fill="#cfe1f2" stroke="#141414" stroke-width="0.95"/>
<line x1="352.15" y1="474.37" x2="352.15" y2="469.51" stroke="#141414" stroke-width="0.7"/>
<line x1="350.75" y1="469.51" x2="353.55" y2="469.51" stroke="#141414" stroke-width="0.7"/>
<line x1="352.15" y1="474.37" x2="352.15" y2="479.23" stroke="#555" stroke-width="0.5"/>
<line x1="350.75" y1="479.23" x2="353.55" y2="479.23" stroke="#555" stroke-width="0.5"/>
<text x="352.15" y="466.63" font-size="7.60" text-anchor="middle" stroke="#1e1e1e" stroke-width="0.25" fill="#1e1e1e">a</text>
<rect x="359.00" y="401.47" width="6.60" height="82.13" fill="#f6dc78" stroke="#141414" stroke-width="0.95"/>
<line x1="362.30" y1="401.47" x2="362.30" y2="386.89" stroke="#141414" stroke-width="0.7"/>
<line x1="360.90" y1="386.89" x2="363.70" y2="386.89" stroke="#141414" stroke-width="0.7"/>
<line x1="362.30" y1="401.47" x2="362.30" y2="416.05" stroke="#555" stroke-width="0.5"/>
<line x1="360.90" y1="416.05" x2="363.70" y2="416.05" stroke="#555" stroke-width="0.5"/>
<text x="362.30" y="381.54" font-size="7.60" text-anchor="middle" stroke="#1e1e1e" stroke-width="0.25" fill="#1e1e1e">b</text>
<rect x="369.15" y="419.45" width="6.60" height="64.15" fill="#4a6490" stroke="#141414" stroke-width="0.95"/>
<line x1="372.45" y1="419.45" x2="372.45" y2="408.76" stroke="#141414" stroke-width="0.7"/>
<line x1="371.05" y1="408.76" x2="373.85" y2="408.76" stroke="#141414" stroke-width="0.7"/>
<line x1="372.45" y1="419.45" x2="372.45" y2="430.14" stroke="#555" stroke-width="0.5"/>
<line x1="371.05" y1="430.14" x2="373.85" y2="430.14" stroke="#555" stroke-width="0.5"/>
<text x="372.45" y="396.93" font-size="7.60" text-anchor="middle" stroke="#1e1e1e" stroke-width="0.25" fill="#1e1e1e">c</text>
<text x="0" y="0" font-size="19.61" font-weight="bold" fill="#111" stroke="#111" stroke-width="0.55" transform="translate(412.10 364.30) scale(1.0 1)">J</text>
<line x1="448.10" y1="361.24" x2="448.10" y2="484.00" stroke="#141414" stroke-width="1.3"/>
<line x1="445.10" y1="361.84" x2="448.10" y2="361.84" stroke="#141414" stroke-width="1.25"/>
<text x="444.50" y="364.84" font-size="8.05" text-anchor="end" stroke="#1e1e1e" stroke-width="0.32" fill="#1e1e1e">10</text>
<line x1="445.10" y1="382.10" x2="448.10" y2="382.10" stroke="#141414" stroke-width="1.25"/>
<text x="444.50" y="385.10" font-size="8.05" text-anchor="end" stroke="#1e1e1e" stroke-width="0.32" fill="#1e1e1e">0</text>
<line x1="445.10" y1="402.36" x2="448.10" y2="402.36" stroke="#141414" stroke-width="1.25"/>
<text x="444.50" y="405.36" font-size="8.05" text-anchor="end" stroke="#1e1e1e" stroke-width="0.32" fill="#1e1e1e">-10</text>
<line x1="445.10" y1="422.62" x2="448.10" y2="422.62" stroke="#141414" stroke-width="1.25"/>
<text x="444.50" y="425.62" font-size="8.05" text-anchor="end" stroke="#1e1e1e" stroke-width="0.32" fill="#1e1e1e">-20</text>
<line x1="445.10" y1="442.88" x2="448.10" y2="442.88" stroke="#141414" stroke-width="1.25"/>
<text x="444.50" y="445.88" font-size="8.05" text-anchor="end" stroke="#1e1e1e" stroke-width="0.32" fill="#1e1e1e">-30</text>
<line x1="445.10" y1="463.14" x2="448.10" y2="463.14" stroke="#141414" stroke-width="1.25"/>
<text x="444.50" y="466.14" font-size="8.05" text-anchor="end" stroke="#1e1e1e" stroke-width="0.32" fill="#1e1e1e">-40</text>
<line x1="445.10" y1="483.40" x2="448.10" y2="483.40" stroke="#141414" stroke-width="1.25"/>
<text x="444.50" y="486.40" font-size="8.05" text-anchor="end" stroke="#1e1e1e" stroke-width="0.32" fill="#1e1e1e">-50</text>
<line x1="448.10" y1="382.10" x2="520.00" y2="382.10" stroke="#141414" stroke-width="1.25"/>
<line x1="448.10" y1="483.40" x2="520.00" y2="483.40" stroke="#141414" stroke-width="1.25"/>
<text x="0" y="0" font-size="8.1" font-weight="bold" text-anchor="middle" fill="#1e1e1e" stroke="#1e1e1e" stroke-width="0.28" transform="translate(423.12 421.80) rotate(-90)">Body weight change (g)</text>
<rect x="454.40" y="382.10" width="10.30" height="0.81" fill="#ffffff" stroke="#141414" stroke-width="1.0"/>
<line x1="459.55" y1="382.91" x2="459.55" y2="385.95" stroke="#141414" stroke-width="0.7"/>
<line x1="457.75" y1="385.95" x2="461.35" y2="385.95" stroke="#141414" stroke-width="0.7"/>
<line x1="459.55" y1="382.91" x2="459.55" y2="378.86" stroke="#141414" stroke-width="0.7"/>
<line x1="457.75" y1="378.86" x2="461.35" y2="378.86" stroke="#141414" stroke-width="0.7"/>
<text x="459.55" y="377.81" font-size="8.30" text-anchor="middle" stroke="#1e1e1e" stroke-width="0.25" fill="#1e1e1e">a</text>
<rect x="470.20" y="382.10" width="10.30" height="2.03" fill="#cfe1f2" stroke="#141414" stroke-width="1.0"/>
<line x1="475.35" y1="384.13" x2="475.35" y2="387.17" stroke="#141414" stroke-width="0.7"/>
<line x1="473.55" y1="387.17" x2="477.15" y2="387.17" stroke="#141414" stroke-width="0.7"/>
<line x1="475.35" y1="384.13" x2="475.35" y2="380.07" stroke="#141414" stroke-width="0.7"/>
<line x1="473.55" y1="380.07" x2="477.15" y2="380.07" stroke="#141414" stroke-width="0.7"/>
<text x="475.35" y="377.81" font-size="8.30" text-anchor="middle" stroke="#1e1e1e" stroke-width="0.25" fill="#1e1e1e">a</text>
<rect x="487.40" y="382.10" width="10.30" height="67.67" fill="#f6dc78" stroke="#141414" stroke-width="1.0"/>
<line x1="492.55" y1="449.77" x2="492.55" y2="452.20" stroke="#141414" stroke-width="0.7"/>
<line x1="490.75" y1="452.20" x2="494.35" y2="452.20" stroke="#141414" stroke-width="0.7"/>
<line x1="492.55" y1="449.77" x2="492.55" y2="447.34" stroke="#555" stroke-width="0.5"/>
<line x1="490.75" y1="447.34" x2="494.35" y2="447.34" stroke="#555" stroke-width="0.5"/>
<text x="492.55" y="464.29" font-size="8.30" text-anchor="middle" stroke="#1e1e1e" stroke-width="0.25" fill="#1e1e1e">b</text>
<rect x="503.20" y="382.10" width="10.30" height="70.50" fill="#4a6490" stroke="#141414" stroke-width="1.0"/>
<line x1="508.35" y1="452.60" x2="508.35" y2="455.64" stroke="#141414" stroke-width="0.7"/>
<line x1="506.55" y1="455.64" x2="510.15" y2="455.64" stroke="#141414" stroke-width="0.7"/>
<line x1="508.35" y1="452.60" x2="508.35" y2="449.57" stroke="#555" stroke-width="0.5"/>
<line x1="506.55" y1="449.57" x2="510.15" y2="449.57" stroke="#555" stroke-width="0.5"/>
<text x="508.35" y="466.69" font-size="8.30" text-anchor="middle" stroke="#1e1e1e" stroke-width="0.25" fill="#1e1e1e">b</text>
</svg></body></html>
